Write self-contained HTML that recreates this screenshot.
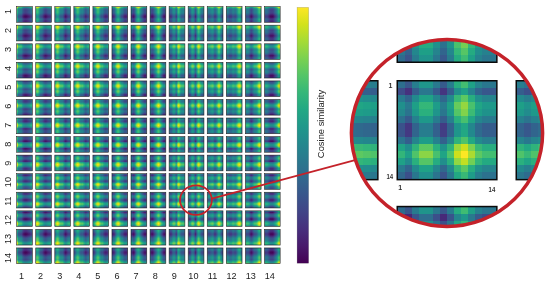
<!DOCTYPE html>
<html><head><meta charset="utf-8"><title>Cosine similarity</title>
<style>html,body{margin:0;padding:0;background:#fff}body{width:550px;height:284px;overflow:hidden}</style></head>
<body><svg width="550" height="284" viewBox="0 0 550 284" style="display:block">
<defs><linearGradient id="c0" x1="0" y1="0" x2="1" y2="0"><stop offset="0.0357" stop-color="#ffffff"/><stop offset="0.1071" stop-color="#808080"/><stop offset="0.1786" stop-color="#777777"/><stop offset="0.2500" stop-color="#6d6d6d"/><stop offset="0.3214" stop-color="#636363"/><stop offset="0.3929" stop-color="#2a2a2a"/><stop offset="0.4643" stop-color="#0d0d0d"/><stop offset="0.5357" stop-color="#000000"/><stop offset="0.6071" stop-color="#000000"/><stop offset="0.6786" stop-color="#0d0d0d"/><stop offset="0.7500" stop-color="#1b1b1b"/><stop offset="0.8214" stop-color="#2a2a2a"/><stop offset="0.8929" stop-color="#474747"/><stop offset="0.9643" stop-color="#555555"/></linearGradient><linearGradient id="cs0" x1="0" y1="0" x2="1" y2="0"><stop offset="0.0000" stop-color="#ffffff"/><stop offset="0.0714" stop-color="#ffffff"/><stop offset="0.0714" stop-color="#808080"/><stop offset="0.1429" stop-color="#808080"/><stop offset="0.1429" stop-color="#777777"/><stop offset="0.2143" stop-color="#777777"/><stop offset="0.2143" stop-color="#6d6d6d"/><stop offset="0.2857" stop-color="#6d6d6d"/><stop offset="0.2857" stop-color="#636363"/><stop offset="0.3571" stop-color="#636363"/><stop offset="0.3571" stop-color="#2a2a2a"/><stop offset="0.4286" stop-color="#2a2a2a"/><stop offset="0.4286" stop-color="#0d0d0d"/><stop offset="0.5000" stop-color="#0d0d0d"/><stop offset="0.5000" stop-color="#000000"/><stop offset="0.5714" stop-color="#000000"/><stop offset="0.5714" stop-color="#000000"/><stop offset="0.6429" stop-color="#000000"/><stop offset="0.6429" stop-color="#0d0d0d"/><stop offset="0.7143" stop-color="#0d0d0d"/><stop offset="0.7143" stop-color="#1b1b1b"/><stop offset="0.7857" stop-color="#1b1b1b"/><stop offset="0.7857" stop-color="#2a2a2a"/><stop offset="0.8571" stop-color="#2a2a2a"/><stop offset="0.8571" stop-color="#474747"/><stop offset="0.9286" stop-color="#474747"/><stop offset="0.9286" stop-color="#555555"/><stop offset="1.0000" stop-color="#555555"/></linearGradient><linearGradient id="r0" x1="0" y1="0" x2="0" y2="1"><stop offset="0.0357" stop-color="#ffffff"/><stop offset="0.1071" stop-color="#999999"/><stop offset="0.1786" stop-color="#6d6d6d"/><stop offset="0.2500" stop-color="#636363"/><stop offset="0.3214" stop-color="#676767"/><stop offset="0.3929" stop-color="#636363"/><stop offset="0.4643" stop-color="#474747"/><stop offset="0.5357" stop-color="#212121"/><stop offset="0.6071" stop-color="#070707"/><stop offset="0.6786" stop-color="#0d0d0d"/><stop offset="0.7500" stop-color="#383838"/><stop offset="0.8214" stop-color="#4c4c4c"/><stop offset="0.8929" stop-color="#383838"/><stop offset="0.9643" stop-color="#2a2a2a"/></linearGradient><linearGradient id="rs0" x1="0" y1="0" x2="0" y2="1"><stop offset="0.0000" stop-color="#ffffff"/><stop offset="0.0714" stop-color="#ffffff"/><stop offset="0.0714" stop-color="#999999"/><stop offset="0.1429" stop-color="#999999"/><stop offset="0.1429" stop-color="#6d6d6d"/><stop offset="0.2143" stop-color="#6d6d6d"/><stop offset="0.2143" stop-color="#636363"/><stop offset="0.2857" stop-color="#636363"/><stop offset="0.2857" stop-color="#676767"/><stop offset="0.3571" stop-color="#676767"/><stop offset="0.3571" stop-color="#636363"/><stop offset="0.4286" stop-color="#636363"/><stop offset="0.4286" stop-color="#474747"/><stop offset="0.5000" stop-color="#474747"/><stop offset="0.5000" stop-color="#212121"/><stop offset="0.5714" stop-color="#212121"/><stop offset="0.5714" stop-color="#070707"/><stop offset="0.6429" stop-color="#070707"/><stop offset="0.6429" stop-color="#0d0d0d"/><stop offset="0.7143" stop-color="#0d0d0d"/><stop offset="0.7143" stop-color="#383838"/><stop offset="0.7857" stop-color="#383838"/><stop offset="0.7857" stop-color="#4c4c4c"/><stop offset="0.8571" stop-color="#4c4c4c"/><stop offset="0.8571" stop-color="#383838"/><stop offset="0.9286" stop-color="#383838"/><stop offset="0.9286" stop-color="#2a2a2a"/><stop offset="1.0000" stop-color="#2a2a2a"/></linearGradient><linearGradient id="c1" x1="0" y1="0" x2="1" y2="0"><stop offset="0.0357" stop-color="#e6e6e6"/><stop offset="0.1071" stop-color="#ffffff"/><stop offset="0.1786" stop-color="#e0e0e0"/><stop offset="0.2500" stop-color="#9e9e9e"/><stop offset="0.3214" stop-color="#6b6b6b"/><stop offset="0.3929" stop-color="#6b6b6b"/><stop offset="0.4643" stop-color="#414141"/><stop offset="0.5357" stop-color="#1c1c1c"/><stop offset="0.6071" stop-color="#060606"/><stop offset="0.6786" stop-color="#0d0d0d"/><stop offset="0.7500" stop-color="#232323"/><stop offset="0.8214" stop-color="#323232"/><stop offset="0.8929" stop-color="#3a3a3a"/><stop offset="0.9643" stop-color="#484848"/></linearGradient><linearGradient id="cs1" x1="0" y1="0" x2="1" y2="0"><stop offset="0.0000" stop-color="#e6e6e6"/><stop offset="0.0714" stop-color="#e6e6e6"/><stop offset="0.0714" stop-color="#ffffff"/><stop offset="0.1429" stop-color="#ffffff"/><stop offset="0.1429" stop-color="#e0e0e0"/><stop offset="0.2143" stop-color="#e0e0e0"/><stop offset="0.2143" stop-color="#9e9e9e"/><stop offset="0.2857" stop-color="#9e9e9e"/><stop offset="0.2857" stop-color="#6b6b6b"/><stop offset="0.3571" stop-color="#6b6b6b"/><stop offset="0.3571" stop-color="#6b6b6b"/><stop offset="0.4286" stop-color="#6b6b6b"/><stop offset="0.4286" stop-color="#414141"/><stop offset="0.5000" stop-color="#414141"/><stop offset="0.5000" stop-color="#1c1c1c"/><stop offset="0.5714" stop-color="#1c1c1c"/><stop offset="0.5714" stop-color="#060606"/><stop offset="0.6429" stop-color="#060606"/><stop offset="0.6429" stop-color="#0d0d0d"/><stop offset="0.7143" stop-color="#0d0d0d"/><stop offset="0.7143" stop-color="#232323"/><stop offset="0.7857" stop-color="#232323"/><stop offset="0.7857" stop-color="#323232"/><stop offset="0.8571" stop-color="#323232"/><stop offset="0.8571" stop-color="#3a3a3a"/><stop offset="0.9286" stop-color="#3a3a3a"/><stop offset="0.9286" stop-color="#484848"/><stop offset="1.0000" stop-color="#484848"/></linearGradient><linearGradient id="r1" x1="0" y1="0" x2="0" y2="1"><stop offset="0.0357" stop-color="#e0e0e0"/><stop offset="0.1071" stop-color="#ffffff"/><stop offset="0.1786" stop-color="#e0e0e0"/><stop offset="0.2500" stop-color="#9e9e9e"/><stop offset="0.3214" stop-color="#666666"/><stop offset="0.3929" stop-color="#707070"/><stop offset="0.4643" stop-color="#666666"/><stop offset="0.5357" stop-color="#484848"/><stop offset="0.6071" stop-color="#2b2b2b"/><stop offset="0.6786" stop-color="#0d0d0d"/><stop offset="0.7500" stop-color="#2b2b2b"/><stop offset="0.8214" stop-color="#484848"/><stop offset="0.8929" stop-color="#575757"/><stop offset="0.9643" stop-color="#3a3a3a"/></linearGradient><linearGradient id="rs1" x1="0" y1="0" x2="0" y2="1"><stop offset="0.0000" stop-color="#e0e0e0"/><stop offset="0.0714" stop-color="#e0e0e0"/><stop offset="0.0714" stop-color="#ffffff"/><stop offset="0.1429" stop-color="#ffffff"/><stop offset="0.1429" stop-color="#e0e0e0"/><stop offset="0.2143" stop-color="#e0e0e0"/><stop offset="0.2143" stop-color="#9e9e9e"/><stop offset="0.2857" stop-color="#9e9e9e"/><stop offset="0.2857" stop-color="#666666"/><stop offset="0.3571" stop-color="#666666"/><stop offset="0.3571" stop-color="#707070"/><stop offset="0.4286" stop-color="#707070"/><stop offset="0.4286" stop-color="#666666"/><stop offset="0.5000" stop-color="#666666"/><stop offset="0.5000" stop-color="#484848"/><stop offset="0.5714" stop-color="#484848"/><stop offset="0.5714" stop-color="#2b2b2b"/><stop offset="0.6429" stop-color="#2b2b2b"/><stop offset="0.6429" stop-color="#0d0d0d"/><stop offset="0.7143" stop-color="#0d0d0d"/><stop offset="0.7143" stop-color="#2b2b2b"/><stop offset="0.7857" stop-color="#2b2b2b"/><stop offset="0.7857" stop-color="#484848"/><stop offset="0.8571" stop-color="#484848"/><stop offset="0.8571" stop-color="#575757"/><stop offset="0.9286" stop-color="#575757"/><stop offset="0.9286" stop-color="#3a3a3a"/><stop offset="1.0000" stop-color="#3a3a3a"/></linearGradient><linearGradient id="c2" x1="0" y1="0" x2="1" y2="0"><stop offset="0.0357" stop-color="#9e9e9e"/><stop offset="0.1071" stop-color="#e0e0e0"/><stop offset="0.1786" stop-color="#ffffff"/><stop offset="0.2500" stop-color="#e0e0e0"/><stop offset="0.3214" stop-color="#9e9e9e"/><stop offset="0.3929" stop-color="#808080"/><stop offset="0.4643" stop-color="#8c8c8c"/><stop offset="0.5357" stop-color="#6d6d6d"/><stop offset="0.6071" stop-color="#363636"/><stop offset="0.6786" stop-color="#111111"/><stop offset="0.7500" stop-color="#232323"/><stop offset="0.8214" stop-color="#484848"/><stop offset="0.8929" stop-color="#5b5b5b"/><stop offset="0.9643" stop-color="#5b5b5b"/></linearGradient><linearGradient id="cs2" x1="0" y1="0" x2="1" y2="0"><stop offset="0.0000" stop-color="#9e9e9e"/><stop offset="0.0714" stop-color="#9e9e9e"/><stop offset="0.0714" stop-color="#e0e0e0"/><stop offset="0.1429" stop-color="#e0e0e0"/><stop offset="0.1429" stop-color="#ffffff"/><stop offset="0.2143" stop-color="#ffffff"/><stop offset="0.2143" stop-color="#e0e0e0"/><stop offset="0.2857" stop-color="#e0e0e0"/><stop offset="0.2857" stop-color="#9e9e9e"/><stop offset="0.3571" stop-color="#9e9e9e"/><stop offset="0.3571" stop-color="#808080"/><stop offset="0.4286" stop-color="#808080"/><stop offset="0.4286" stop-color="#8c8c8c"/><stop offset="0.5000" stop-color="#8c8c8c"/><stop offset="0.5000" stop-color="#6d6d6d"/><stop offset="0.5714" stop-color="#6d6d6d"/><stop offset="0.5714" stop-color="#363636"/><stop offset="0.6429" stop-color="#363636"/><stop offset="0.6429" stop-color="#111111"/><stop offset="0.7143" stop-color="#111111"/><stop offset="0.7143" stop-color="#232323"/><stop offset="0.7857" stop-color="#232323"/><stop offset="0.7857" stop-color="#484848"/><stop offset="0.8571" stop-color="#484848"/><stop offset="0.8571" stop-color="#5b5b5b"/><stop offset="0.9286" stop-color="#5b5b5b"/><stop offset="0.9286" stop-color="#5b5b5b"/><stop offset="1.0000" stop-color="#5b5b5b"/></linearGradient><linearGradient id="r2" x1="0" y1="0" x2="0" y2="1"><stop offset="0.0357" stop-color="#acacac"/><stop offset="0.1071" stop-color="#e0e0e0"/><stop offset="0.1786" stop-color="#ffffff"/><stop offset="0.2500" stop-color="#e0e0e0"/><stop offset="0.3214" stop-color="#9e9e9e"/><stop offset="0.3929" stop-color="#767676"/><stop offset="0.4643" stop-color="#8c8c8c"/><stop offset="0.5357" stop-color="#8c8c8c"/><stop offset="0.6071" stop-color="#6d6d6d"/><stop offset="0.6786" stop-color="#3f3f3f"/><stop offset="0.7500" stop-color="#111111"/><stop offset="0.8214" stop-color="#232323"/><stop offset="0.8929" stop-color="#484848"/><stop offset="0.9643" stop-color="#515151"/></linearGradient><linearGradient id="rs2" x1="0" y1="0" x2="0" y2="1"><stop offset="0.0000" stop-color="#acacac"/><stop offset="0.0714" stop-color="#acacac"/><stop offset="0.0714" stop-color="#e0e0e0"/><stop offset="0.1429" stop-color="#e0e0e0"/><stop offset="0.1429" stop-color="#ffffff"/><stop offset="0.2143" stop-color="#ffffff"/><stop offset="0.2143" stop-color="#e0e0e0"/><stop offset="0.2857" stop-color="#e0e0e0"/><stop offset="0.2857" stop-color="#9e9e9e"/><stop offset="0.3571" stop-color="#9e9e9e"/><stop offset="0.3571" stop-color="#767676"/><stop offset="0.4286" stop-color="#767676"/><stop offset="0.4286" stop-color="#8c8c8c"/><stop offset="0.5000" stop-color="#8c8c8c"/><stop offset="0.5000" stop-color="#8c8c8c"/><stop offset="0.5714" stop-color="#8c8c8c"/><stop offset="0.5714" stop-color="#6d6d6d"/><stop offset="0.6429" stop-color="#6d6d6d"/><stop offset="0.6429" stop-color="#3f3f3f"/><stop offset="0.7143" stop-color="#3f3f3f"/><stop offset="0.7143" stop-color="#111111"/><stop offset="0.7857" stop-color="#111111"/><stop offset="0.7857" stop-color="#232323"/><stop offset="0.8571" stop-color="#232323"/><stop offset="0.8571" stop-color="#484848"/><stop offset="0.9286" stop-color="#484848"/><stop offset="0.9286" stop-color="#515151"/><stop offset="1.0000" stop-color="#515151"/></linearGradient><linearGradient id="c3" x1="0" y1="0" x2="1" y2="0"><stop offset="0.0357" stop-color="#6d6d6d"/><stop offset="0.1071" stop-color="#9e9e9e"/><stop offset="0.1786" stop-color="#e0e0e0"/><stop offset="0.2500" stop-color="#ffffff"/><stop offset="0.3214" stop-color="#e0e0e0"/><stop offset="0.3929" stop-color="#9e9e9e"/><stop offset="0.4643" stop-color="#808080"/><stop offset="0.5357" stop-color="#8c8c8c"/><stop offset="0.6071" stop-color="#6d6d6d"/><stop offset="0.6786" stop-color="#484848"/><stop offset="0.7500" stop-color="#232323"/><stop offset="0.8214" stop-color="#363636"/><stop offset="0.8929" stop-color="#5b5b5b"/><stop offset="0.9643" stop-color="#5b5b5b"/></linearGradient><linearGradient id="cs3" x1="0" y1="0" x2="1" y2="0"><stop offset="0.0000" stop-color="#6d6d6d"/><stop offset="0.0714" stop-color="#6d6d6d"/><stop offset="0.0714" stop-color="#9e9e9e"/><stop offset="0.1429" stop-color="#9e9e9e"/><stop offset="0.1429" stop-color="#e0e0e0"/><stop offset="0.2143" stop-color="#e0e0e0"/><stop offset="0.2143" stop-color="#ffffff"/><stop offset="0.2857" stop-color="#ffffff"/><stop offset="0.2857" stop-color="#e0e0e0"/><stop offset="0.3571" stop-color="#e0e0e0"/><stop offset="0.3571" stop-color="#9e9e9e"/><stop offset="0.4286" stop-color="#9e9e9e"/><stop offset="0.4286" stop-color="#808080"/><stop offset="0.5000" stop-color="#808080"/><stop offset="0.5000" stop-color="#8c8c8c"/><stop offset="0.5714" stop-color="#8c8c8c"/><stop offset="0.5714" stop-color="#6d6d6d"/><stop offset="0.6429" stop-color="#6d6d6d"/><stop offset="0.6429" stop-color="#484848"/><stop offset="0.7143" stop-color="#484848"/><stop offset="0.7143" stop-color="#232323"/><stop offset="0.7857" stop-color="#232323"/><stop offset="0.7857" stop-color="#363636"/><stop offset="0.8571" stop-color="#363636"/><stop offset="0.8571" stop-color="#5b5b5b"/><stop offset="0.9286" stop-color="#5b5b5b"/><stop offset="0.9286" stop-color="#5b5b5b"/><stop offset="1.0000" stop-color="#5b5b5b"/></linearGradient><linearGradient id="r3" x1="0" y1="0" x2="0" y2="1"><stop offset="0.0357" stop-color="#808080"/><stop offset="0.1071" stop-color="#9e9e9e"/><stop offset="0.1786" stop-color="#e0e0e0"/><stop offset="0.2500" stop-color="#ffffff"/><stop offset="0.3214" stop-color="#e0e0e0"/><stop offset="0.3929" stop-color="#9e9e9e"/><stop offset="0.4643" stop-color="#6d6d6d"/><stop offset="0.5357" stop-color="#8c8c8c"/><stop offset="0.6071" stop-color="#999999"/><stop offset="0.6786" stop-color="#808080"/><stop offset="0.7500" stop-color="#484848"/><stop offset="0.8214" stop-color="#111111"/><stop offset="0.8929" stop-color="#111111"/><stop offset="0.9643" stop-color="#363636"/></linearGradient><linearGradient id="rs3" x1="0" y1="0" x2="0" y2="1"><stop offset="0.0000" stop-color="#808080"/><stop offset="0.0714" stop-color="#808080"/><stop offset="0.0714" stop-color="#9e9e9e"/><stop offset="0.1429" stop-color="#9e9e9e"/><stop offset="0.1429" stop-color="#e0e0e0"/><stop offset="0.2143" stop-color="#e0e0e0"/><stop offset="0.2143" stop-color="#ffffff"/><stop offset="0.2857" stop-color="#ffffff"/><stop offset="0.2857" stop-color="#e0e0e0"/><stop offset="0.3571" stop-color="#e0e0e0"/><stop offset="0.3571" stop-color="#9e9e9e"/><stop offset="0.4286" stop-color="#9e9e9e"/><stop offset="0.4286" stop-color="#6d6d6d"/><stop offset="0.5000" stop-color="#6d6d6d"/><stop offset="0.5000" stop-color="#8c8c8c"/><stop offset="0.5714" stop-color="#8c8c8c"/><stop offset="0.5714" stop-color="#999999"/><stop offset="0.6429" stop-color="#999999"/><stop offset="0.6429" stop-color="#808080"/><stop offset="0.7143" stop-color="#808080"/><stop offset="0.7143" stop-color="#484848"/><stop offset="0.7857" stop-color="#484848"/><stop offset="0.7857" stop-color="#111111"/><stop offset="0.8571" stop-color="#111111"/><stop offset="0.8571" stop-color="#111111"/><stop offset="0.9286" stop-color="#111111"/><stop offset="0.9286" stop-color="#363636"/><stop offset="1.0000" stop-color="#363636"/></linearGradient><linearGradient id="c4" x1="0" y1="0" x2="1" y2="0"><stop offset="0.0357" stop-color="#4c4c4c"/><stop offset="0.1071" stop-color="#5d5d5d"/><stop offset="0.1786" stop-color="#9e9e9e"/><stop offset="0.2500" stop-color="#e0e0e0"/><stop offset="0.3214" stop-color="#ffffff"/><stop offset="0.3929" stop-color="#e0e0e0"/><stop offset="0.4643" stop-color="#9e9e9e"/><stop offset="0.5357" stop-color="#797979"/><stop offset="0.6071" stop-color="#797979"/><stop offset="0.6786" stop-color="#545454"/><stop offset="0.7500" stop-color="#333333"/><stop offset="0.8214" stop-color="#232323"/><stop offset="0.8929" stop-color="#2f2f2f"/><stop offset="0.9643" stop-color="#484848"/></linearGradient><linearGradient id="cs4" x1="0" y1="0" x2="1" y2="0"><stop offset="0.0000" stop-color="#4c4c4c"/><stop offset="0.0714" stop-color="#4c4c4c"/><stop offset="0.0714" stop-color="#5d5d5d"/><stop offset="0.1429" stop-color="#5d5d5d"/><stop offset="0.1429" stop-color="#9e9e9e"/><stop offset="0.2143" stop-color="#9e9e9e"/><stop offset="0.2143" stop-color="#e0e0e0"/><stop offset="0.2857" stop-color="#e0e0e0"/><stop offset="0.2857" stop-color="#ffffff"/><stop offset="0.3571" stop-color="#ffffff"/><stop offset="0.3571" stop-color="#e0e0e0"/><stop offset="0.4286" stop-color="#e0e0e0"/><stop offset="0.4286" stop-color="#9e9e9e"/><stop offset="0.5000" stop-color="#9e9e9e"/><stop offset="0.5000" stop-color="#797979"/><stop offset="0.5714" stop-color="#797979"/><stop offset="0.5714" stop-color="#797979"/><stop offset="0.6429" stop-color="#797979"/><stop offset="0.6429" stop-color="#545454"/><stop offset="0.7143" stop-color="#545454"/><stop offset="0.7143" stop-color="#333333"/><stop offset="0.7857" stop-color="#333333"/><stop offset="0.7857" stop-color="#232323"/><stop offset="0.8571" stop-color="#232323"/><stop offset="0.8571" stop-color="#2f2f2f"/><stop offset="0.9286" stop-color="#2f2f2f"/><stop offset="0.9286" stop-color="#484848"/><stop offset="1.0000" stop-color="#484848"/></linearGradient><linearGradient id="r4" x1="0" y1="0" x2="0" y2="1"><stop offset="0.0357" stop-color="#5b5b5b"/><stop offset="0.1071" stop-color="#808080"/><stop offset="0.1786" stop-color="#9e9e9e"/><stop offset="0.2500" stop-color="#e0e0e0"/><stop offset="0.3214" stop-color="#ffffff"/><stop offset="0.3929" stop-color="#e0e0e0"/><stop offset="0.4643" stop-color="#9e9e9e"/><stop offset="0.5357" stop-color="#6d6d6d"/><stop offset="0.6071" stop-color="#8c8c8c"/><stop offset="0.6786" stop-color="#999999"/><stop offset="0.7500" stop-color="#808080"/><stop offset="0.8214" stop-color="#484848"/><stop offset="0.8929" stop-color="#111111"/><stop offset="0.9643" stop-color="#232323"/></linearGradient><linearGradient id="rs4" x1="0" y1="0" x2="0" y2="1"><stop offset="0.0000" stop-color="#5b5b5b"/><stop offset="0.0714" stop-color="#5b5b5b"/><stop offset="0.0714" stop-color="#808080"/><stop offset="0.1429" stop-color="#808080"/><stop offset="0.1429" stop-color="#9e9e9e"/><stop offset="0.2143" stop-color="#9e9e9e"/><stop offset="0.2143" stop-color="#e0e0e0"/><stop offset="0.2857" stop-color="#e0e0e0"/><stop offset="0.2857" stop-color="#ffffff"/><stop offset="0.3571" stop-color="#ffffff"/><stop offset="0.3571" stop-color="#e0e0e0"/><stop offset="0.4286" stop-color="#e0e0e0"/><stop offset="0.4286" stop-color="#9e9e9e"/><stop offset="0.5000" stop-color="#9e9e9e"/><stop offset="0.5000" stop-color="#6d6d6d"/><stop offset="0.5714" stop-color="#6d6d6d"/><stop offset="0.5714" stop-color="#8c8c8c"/><stop offset="0.6429" stop-color="#8c8c8c"/><stop offset="0.6429" stop-color="#999999"/><stop offset="0.7143" stop-color="#999999"/><stop offset="0.7143" stop-color="#808080"/><stop offset="0.7857" stop-color="#808080"/><stop offset="0.7857" stop-color="#484848"/><stop offset="0.8571" stop-color="#484848"/><stop offset="0.8571" stop-color="#111111"/><stop offset="0.9286" stop-color="#111111"/><stop offset="0.9286" stop-color="#232323"/><stop offset="1.0000" stop-color="#232323"/></linearGradient><linearGradient id="c5" x1="0" y1="0" x2="1" y2="0"><stop offset="0.0357" stop-color="#343434"/><stop offset="0.1071" stop-color="#2a2a2a"/><stop offset="0.1786" stop-color="#4d4d4d"/><stop offset="0.2500" stop-color="#9e9e9e"/><stop offset="0.3214" stop-color="#e0e0e0"/><stop offset="0.3929" stop-color="#ffffff"/><stop offset="0.4643" stop-color="#e0e0e0"/><stop offset="0.5357" stop-color="#9e9e9e"/><stop offset="0.6071" stop-color="#737373"/><stop offset="0.6786" stop-color="#616161"/><stop offset="0.7500" stop-color="#3c3c3c"/><stop offset="0.8214" stop-color="#1e1e1e"/><stop offset="0.8929" stop-color="#232323"/><stop offset="0.9643" stop-color="#292929"/></linearGradient><linearGradient id="cs5" x1="0" y1="0" x2="1" y2="0"><stop offset="0.0000" stop-color="#343434"/><stop offset="0.0714" stop-color="#343434"/><stop offset="0.0714" stop-color="#2a2a2a"/><stop offset="0.1429" stop-color="#2a2a2a"/><stop offset="0.1429" stop-color="#4d4d4d"/><stop offset="0.2143" stop-color="#4d4d4d"/><stop offset="0.2143" stop-color="#9e9e9e"/><stop offset="0.2857" stop-color="#9e9e9e"/><stop offset="0.2857" stop-color="#e0e0e0"/><stop offset="0.3571" stop-color="#e0e0e0"/><stop offset="0.3571" stop-color="#ffffff"/><stop offset="0.4286" stop-color="#ffffff"/><stop offset="0.4286" stop-color="#e0e0e0"/><stop offset="0.5000" stop-color="#e0e0e0"/><stop offset="0.5000" stop-color="#9e9e9e"/><stop offset="0.5714" stop-color="#9e9e9e"/><stop offset="0.5714" stop-color="#737373"/><stop offset="0.6429" stop-color="#737373"/><stop offset="0.6429" stop-color="#616161"/><stop offset="0.7143" stop-color="#616161"/><stop offset="0.7143" stop-color="#3c3c3c"/><stop offset="0.7857" stop-color="#3c3c3c"/><stop offset="0.7857" stop-color="#1e1e1e"/><stop offset="0.8571" stop-color="#1e1e1e"/><stop offset="0.8571" stop-color="#232323"/><stop offset="0.9286" stop-color="#232323"/><stop offset="0.9286" stop-color="#292929"/><stop offset="1.0000" stop-color="#292929"/></linearGradient><linearGradient id="r5" x1="0" y1="0" x2="0" y2="1"><stop offset="0.0357" stop-color="#5b5b5b"/><stop offset="0.1071" stop-color="#484848"/><stop offset="0.1786" stop-color="#5b5b5b"/><stop offset="0.2500" stop-color="#9e9e9e"/><stop offset="0.3214" stop-color="#e0e0e0"/><stop offset="0.3929" stop-color="#ffffff"/><stop offset="0.4643" stop-color="#e0e0e0"/><stop offset="0.5357" stop-color="#9e9e9e"/><stop offset="0.6071" stop-color="#4e4e4e"/><stop offset="0.6786" stop-color="#6d6d6d"/><stop offset="0.7500" stop-color="#888888"/><stop offset="0.8214" stop-color="#737373"/><stop offset="0.8929" stop-color="#4e4e4e"/><stop offset="0.9643" stop-color="#292929"/></linearGradient><linearGradient id="rs5" x1="0" y1="0" x2="0" y2="1"><stop offset="0.0000" stop-color="#5b5b5b"/><stop offset="0.0714" stop-color="#5b5b5b"/><stop offset="0.0714" stop-color="#484848"/><stop offset="0.1429" stop-color="#484848"/><stop offset="0.1429" stop-color="#5b5b5b"/><stop offset="0.2143" stop-color="#5b5b5b"/><stop offset="0.2143" stop-color="#9e9e9e"/><stop offset="0.2857" stop-color="#9e9e9e"/><stop offset="0.2857" stop-color="#e0e0e0"/><stop offset="0.3571" stop-color="#e0e0e0"/><stop offset="0.3571" stop-color="#ffffff"/><stop offset="0.4286" stop-color="#ffffff"/><stop offset="0.4286" stop-color="#e0e0e0"/><stop offset="0.5000" stop-color="#e0e0e0"/><stop offset="0.5000" stop-color="#9e9e9e"/><stop offset="0.5714" stop-color="#9e9e9e"/><stop offset="0.5714" stop-color="#4e4e4e"/><stop offset="0.6429" stop-color="#4e4e4e"/><stop offset="0.6429" stop-color="#6d6d6d"/><stop offset="0.7143" stop-color="#6d6d6d"/><stop offset="0.7143" stop-color="#888888"/><stop offset="0.7857" stop-color="#888888"/><stop offset="0.7857" stop-color="#737373"/><stop offset="0.8571" stop-color="#737373"/><stop offset="0.8571" stop-color="#4e4e4e"/><stop offset="0.9286" stop-color="#4e4e4e"/><stop offset="0.9286" stop-color="#292929"/><stop offset="1.0000" stop-color="#292929"/></linearGradient><linearGradient id="c6" x1="0" y1="0" x2="1" y2="0"><stop offset="0.0357" stop-color="#484848"/><stop offset="0.1071" stop-color="#181818"/><stop offset="0.1786" stop-color="#090909"/><stop offset="0.2500" stop-color="#3d3d3d"/><stop offset="0.3214" stop-color="#9e9e9e"/><stop offset="0.3929" stop-color="#e0e0e0"/><stop offset="0.4643" stop-color="#ffffff"/><stop offset="0.5357" stop-color="#e0e0e0"/><stop offset="0.6071" stop-color="#9e9e9e"/><stop offset="0.6786" stop-color="#6d6d6d"/><stop offset="0.7500" stop-color="#484848"/><stop offset="0.8214" stop-color="#232323"/><stop offset="0.8929" stop-color="#090909"/><stop offset="0.9643" stop-color="#232323"/></linearGradient><linearGradient id="cs6" x1="0" y1="0" x2="1" y2="0"><stop offset="0.0000" stop-color="#484848"/><stop offset="0.0714" stop-color="#484848"/><stop offset="0.0714" stop-color="#181818"/><stop offset="0.1429" stop-color="#181818"/><stop offset="0.1429" stop-color="#090909"/><stop offset="0.2143" stop-color="#090909"/><stop offset="0.2143" stop-color="#3d3d3d"/><stop offset="0.2857" stop-color="#3d3d3d"/><stop offset="0.2857" stop-color="#9e9e9e"/><stop offset="0.3571" stop-color="#9e9e9e"/><stop offset="0.3571" stop-color="#e0e0e0"/><stop offset="0.4286" stop-color="#e0e0e0"/><stop offset="0.4286" stop-color="#ffffff"/><stop offset="0.5000" stop-color="#ffffff"/><stop offset="0.5000" stop-color="#e0e0e0"/><stop offset="0.5714" stop-color="#e0e0e0"/><stop offset="0.5714" stop-color="#9e9e9e"/><stop offset="0.6429" stop-color="#9e9e9e"/><stop offset="0.6429" stop-color="#6d6d6d"/><stop offset="0.7143" stop-color="#6d6d6d"/><stop offset="0.7143" stop-color="#484848"/><stop offset="0.7857" stop-color="#484848"/><stop offset="0.7857" stop-color="#232323"/><stop offset="0.8571" stop-color="#232323"/><stop offset="0.8571" stop-color="#090909"/><stop offset="0.9286" stop-color="#090909"/><stop offset="0.9286" stop-color="#232323"/><stop offset="1.0000" stop-color="#232323"/></linearGradient><linearGradient id="r6" x1="0" y1="0" x2="0" y2="1"><stop offset="0.0357" stop-color="#676767"/><stop offset="0.1071" stop-color="#5b5b5b"/><stop offset="0.1786" stop-color="#363636"/><stop offset="0.2500" stop-color="#363636"/><stop offset="0.3214" stop-color="#9e9e9e"/><stop offset="0.3929" stop-color="#e0e0e0"/><stop offset="0.4643" stop-color="#ffffff"/><stop offset="0.5357" stop-color="#e0e0e0"/><stop offset="0.6071" stop-color="#9e9e9e"/><stop offset="0.6786" stop-color="#2f2f2f"/><stop offset="0.7500" stop-color="#484848"/><stop offset="0.8214" stop-color="#737373"/><stop offset="0.8929" stop-color="#676767"/><stop offset="0.9643" stop-color="#545454"/></linearGradient><linearGradient id="rs6" x1="0" y1="0" x2="0" y2="1"><stop offset="0.0000" stop-color="#676767"/><stop offset="0.0714" stop-color="#676767"/><stop offset="0.0714" stop-color="#5b5b5b"/><stop offset="0.1429" stop-color="#5b5b5b"/><stop offset="0.1429" stop-color="#363636"/><stop offset="0.2143" stop-color="#363636"/><stop offset="0.2143" stop-color="#363636"/><stop offset="0.2857" stop-color="#363636"/><stop offset="0.2857" stop-color="#9e9e9e"/><stop offset="0.3571" stop-color="#9e9e9e"/><stop offset="0.3571" stop-color="#e0e0e0"/><stop offset="0.4286" stop-color="#e0e0e0"/><stop offset="0.4286" stop-color="#ffffff"/><stop offset="0.5000" stop-color="#ffffff"/><stop offset="0.5000" stop-color="#e0e0e0"/><stop offset="0.5714" stop-color="#e0e0e0"/><stop offset="0.5714" stop-color="#9e9e9e"/><stop offset="0.6429" stop-color="#9e9e9e"/><stop offset="0.6429" stop-color="#2f2f2f"/><stop offset="0.7143" stop-color="#2f2f2f"/><stop offset="0.7143" stop-color="#484848"/><stop offset="0.7857" stop-color="#484848"/><stop offset="0.7857" stop-color="#737373"/><stop offset="0.8571" stop-color="#737373"/><stop offset="0.8571" stop-color="#676767"/><stop offset="0.9286" stop-color="#676767"/><stop offset="0.9286" stop-color="#545454"/><stop offset="1.0000" stop-color="#545454"/></linearGradient><linearGradient id="c7" x1="0" y1="0" x2="1" y2="0"><stop offset="0.0357" stop-color="#3d3d3d"/><stop offset="0.1071" stop-color="#090909"/><stop offset="0.1786" stop-color="#111111"/><stop offset="0.2500" stop-color="#3d3d3d"/><stop offset="0.3214" stop-color="#6d6d6d"/><stop offset="0.3929" stop-color="#9e9e9e"/><stop offset="0.4643" stop-color="#e0e0e0"/><stop offset="0.5357" stop-color="#ffffff"/><stop offset="0.6071" stop-color="#e0e0e0"/><stop offset="0.6786" stop-color="#9e9e9e"/><stop offset="0.7500" stop-color="#626262"/><stop offset="0.8214" stop-color="#363636"/><stop offset="0.8929" stop-color="#090909"/><stop offset="0.9643" stop-color="#232323"/></linearGradient><linearGradient id="cs7" x1="0" y1="0" x2="1" y2="0"><stop offset="0.0000" stop-color="#3d3d3d"/><stop offset="0.0714" stop-color="#3d3d3d"/><stop offset="0.0714" stop-color="#090909"/><stop offset="0.1429" stop-color="#090909"/><stop offset="0.1429" stop-color="#111111"/><stop offset="0.2143" stop-color="#111111"/><stop offset="0.2143" stop-color="#3d3d3d"/><stop offset="0.2857" stop-color="#3d3d3d"/><stop offset="0.2857" stop-color="#6d6d6d"/><stop offset="0.3571" stop-color="#6d6d6d"/><stop offset="0.3571" stop-color="#9e9e9e"/><stop offset="0.4286" stop-color="#9e9e9e"/><stop offset="0.4286" stop-color="#e0e0e0"/><stop offset="0.5000" stop-color="#e0e0e0"/><stop offset="0.5000" stop-color="#ffffff"/><stop offset="0.5714" stop-color="#ffffff"/><stop offset="0.5714" stop-color="#e0e0e0"/><stop offset="0.6429" stop-color="#e0e0e0"/><stop offset="0.6429" stop-color="#9e9e9e"/><stop offset="0.7143" stop-color="#9e9e9e"/><stop offset="0.7143" stop-color="#626262"/><stop offset="0.7857" stop-color="#626262"/><stop offset="0.7857" stop-color="#363636"/><stop offset="0.8571" stop-color="#363636"/><stop offset="0.8571" stop-color="#090909"/><stop offset="0.9286" stop-color="#090909"/><stop offset="0.9286" stop-color="#232323"/><stop offset="1.0000" stop-color="#232323"/></linearGradient><linearGradient id="r7" x1="0" y1="0" x2="0" y2="1"><stop offset="0.0357" stop-color="#5b5b5b"/><stop offset="0.1071" stop-color="#6d6d6d"/><stop offset="0.1786" stop-color="#5b5b5b"/><stop offset="0.2500" stop-color="#232323"/><stop offset="0.3214" stop-color="#111111"/><stop offset="0.3929" stop-color="#9e9e9e"/><stop offset="0.4643" stop-color="#e0e0e0"/><stop offset="0.5357" stop-color="#ffffff"/><stop offset="0.6071" stop-color="#e0e0e0"/><stop offset="0.6786" stop-color="#9e9e9e"/><stop offset="0.7500" stop-color="#111111"/><stop offset="0.8214" stop-color="#232323"/><stop offset="0.8929" stop-color="#5b5b5b"/><stop offset="0.9643" stop-color="#5b5b5b"/></linearGradient><linearGradient id="rs7" x1="0" y1="0" x2="0" y2="1"><stop offset="0.0000" stop-color="#5b5b5b"/><stop offset="0.0714" stop-color="#5b5b5b"/><stop offset="0.0714" stop-color="#6d6d6d"/><stop offset="0.1429" stop-color="#6d6d6d"/><stop offset="0.1429" stop-color="#5b5b5b"/><stop offset="0.2143" stop-color="#5b5b5b"/><stop offset="0.2143" stop-color="#232323"/><stop offset="0.2857" stop-color="#232323"/><stop offset="0.2857" stop-color="#111111"/><stop offset="0.3571" stop-color="#111111"/><stop offset="0.3571" stop-color="#9e9e9e"/><stop offset="0.4286" stop-color="#9e9e9e"/><stop offset="0.4286" stop-color="#e0e0e0"/><stop offset="0.5000" stop-color="#e0e0e0"/><stop offset="0.5000" stop-color="#ffffff"/><stop offset="0.5714" stop-color="#ffffff"/><stop offset="0.5714" stop-color="#e0e0e0"/><stop offset="0.6429" stop-color="#e0e0e0"/><stop offset="0.6429" stop-color="#9e9e9e"/><stop offset="0.7143" stop-color="#9e9e9e"/><stop offset="0.7143" stop-color="#111111"/><stop offset="0.7857" stop-color="#111111"/><stop offset="0.7857" stop-color="#232323"/><stop offset="0.8571" stop-color="#232323"/><stop offset="0.8571" stop-color="#5b5b5b"/><stop offset="0.9286" stop-color="#5b5b5b"/><stop offset="0.9286" stop-color="#5b5b5b"/><stop offset="1.0000" stop-color="#5b5b5b"/></linearGradient><linearGradient id="c8" x1="0" y1="0" x2="1" y2="0"><stop offset="0.0357" stop-color="#595959"/><stop offset="0.1071" stop-color="#2b2b2b"/><stop offset="0.1786" stop-color="#595959"/><stop offset="0.2500" stop-color="#8c8c8c"/><stop offset="0.3214" stop-color="#9e9e9e"/><stop offset="0.3929" stop-color="#737373"/><stop offset="0.4643" stop-color="#4c4c4c"/><stop offset="0.5357" stop-color="#bfbfbf"/><stop offset="0.6071" stop-color="#ffffff"/><stop offset="0.6786" stop-color="#cccccc"/><stop offset="0.7500" stop-color="#858585"/><stop offset="0.8214" stop-color="#808080"/><stop offset="0.8929" stop-color="#787878"/><stop offset="0.9643" stop-color="#737373"/></linearGradient><linearGradient id="cs8" x1="0" y1="0" x2="1" y2="0"><stop offset="0.0000" stop-color="#595959"/><stop offset="0.0714" stop-color="#595959"/><stop offset="0.0714" stop-color="#2b2b2b"/><stop offset="0.1429" stop-color="#2b2b2b"/><stop offset="0.1429" stop-color="#595959"/><stop offset="0.2143" stop-color="#595959"/><stop offset="0.2143" stop-color="#8c8c8c"/><stop offset="0.2857" stop-color="#8c8c8c"/><stop offset="0.2857" stop-color="#9e9e9e"/><stop offset="0.3571" stop-color="#9e9e9e"/><stop offset="0.3571" stop-color="#737373"/><stop offset="0.4286" stop-color="#737373"/><stop offset="0.4286" stop-color="#4c4c4c"/><stop offset="0.5000" stop-color="#4c4c4c"/><stop offset="0.5000" stop-color="#bfbfbf"/><stop offset="0.5714" stop-color="#bfbfbf"/><stop offset="0.5714" stop-color="#ffffff"/><stop offset="0.6429" stop-color="#ffffff"/><stop offset="0.6429" stop-color="#cccccc"/><stop offset="0.7143" stop-color="#cccccc"/><stop offset="0.7143" stop-color="#858585"/><stop offset="0.7857" stop-color="#858585"/><stop offset="0.7857" stop-color="#808080"/><stop offset="0.8571" stop-color="#808080"/><stop offset="0.8571" stop-color="#787878"/><stop offset="0.9286" stop-color="#787878"/><stop offset="0.9286" stop-color="#737373"/><stop offset="1.0000" stop-color="#737373"/></linearGradient><linearGradient id="r8" x1="0" y1="0" x2="0" y2="1"><stop offset="0.0357" stop-color="#2c2c2c"/><stop offset="0.1071" stop-color="#646464"/><stop offset="0.1786" stop-color="#8e8e8e"/><stop offset="0.2500" stop-color="#858585"/><stop offset="0.3214" stop-color="#484848"/><stop offset="0.3929" stop-color="#111111"/><stop offset="0.4643" stop-color="#9e9e9e"/><stop offset="0.5357" stop-color="#e0e0e0"/><stop offset="0.6071" stop-color="#ffffff"/><stop offset="0.6786" stop-color="#e0e0e0"/><stop offset="0.7500" stop-color="#9e9e9e"/><stop offset="0.8214" stop-color="#444444"/><stop offset="0.8929" stop-color="#3b3b3b"/><stop offset="0.9643" stop-color="#575757"/></linearGradient><linearGradient id="rs8" x1="0" y1="0" x2="0" y2="1"><stop offset="0.0000" stop-color="#2c2c2c"/><stop offset="0.0714" stop-color="#2c2c2c"/><stop offset="0.0714" stop-color="#646464"/><stop offset="0.1429" stop-color="#646464"/><stop offset="0.1429" stop-color="#8e8e8e"/><stop offset="0.2143" stop-color="#8e8e8e"/><stop offset="0.2143" stop-color="#858585"/><stop offset="0.2857" stop-color="#858585"/><stop offset="0.2857" stop-color="#484848"/><stop offset="0.3571" stop-color="#484848"/><stop offset="0.3571" stop-color="#111111"/><stop offset="0.4286" stop-color="#111111"/><stop offset="0.4286" stop-color="#9e9e9e"/><stop offset="0.5000" stop-color="#9e9e9e"/><stop offset="0.5000" stop-color="#e0e0e0"/><stop offset="0.5714" stop-color="#e0e0e0"/><stop offset="0.5714" stop-color="#ffffff"/><stop offset="0.6429" stop-color="#ffffff"/><stop offset="0.6429" stop-color="#e0e0e0"/><stop offset="0.7143" stop-color="#e0e0e0"/><stop offset="0.7143" stop-color="#9e9e9e"/><stop offset="0.7857" stop-color="#9e9e9e"/><stop offset="0.7857" stop-color="#444444"/><stop offset="0.8571" stop-color="#444444"/><stop offset="0.8571" stop-color="#3b3b3b"/><stop offset="0.9286" stop-color="#3b3b3b"/><stop offset="0.9286" stop-color="#575757"/><stop offset="1.0000" stop-color="#575757"/></linearGradient><linearGradient id="c9" x1="0" y1="0" x2="1" y2="0"><stop offset="0.0357" stop-color="#525252"/><stop offset="0.1071" stop-color="#242424"/><stop offset="0.1786" stop-color="#737373"/><stop offset="0.2500" stop-color="#a6a6a6"/><stop offset="0.3214" stop-color="#a6a6a6"/><stop offset="0.3929" stop-color="#6b6b6b"/><stop offset="0.4643" stop-color="#2b2b2b"/><stop offset="0.5357" stop-color="#737373"/><stop offset="0.6071" stop-color="#d9d9d9"/><stop offset="0.6786" stop-color="#ffffff"/><stop offset="0.7500" stop-color="#bfbfbf"/><stop offset="0.8214" stop-color="#808080"/><stop offset="0.8929" stop-color="#666666"/><stop offset="0.9643" stop-color="#666666"/></linearGradient><linearGradient id="cs9" x1="0" y1="0" x2="1" y2="0"><stop offset="0.0000" stop-color="#525252"/><stop offset="0.0714" stop-color="#525252"/><stop offset="0.0714" stop-color="#242424"/><stop offset="0.1429" stop-color="#242424"/><stop offset="0.1429" stop-color="#737373"/><stop offset="0.2143" stop-color="#737373"/><stop offset="0.2143" stop-color="#a6a6a6"/><stop offset="0.2857" stop-color="#a6a6a6"/><stop offset="0.2857" stop-color="#a6a6a6"/><stop offset="0.3571" stop-color="#a6a6a6"/><stop offset="0.3571" stop-color="#6b6b6b"/><stop offset="0.4286" stop-color="#6b6b6b"/><stop offset="0.4286" stop-color="#2b2b2b"/><stop offset="0.5000" stop-color="#2b2b2b"/><stop offset="0.5000" stop-color="#737373"/><stop offset="0.5714" stop-color="#737373"/><stop offset="0.5714" stop-color="#d9d9d9"/><stop offset="0.6429" stop-color="#d9d9d9"/><stop offset="0.6429" stop-color="#ffffff"/><stop offset="0.7143" stop-color="#ffffff"/><stop offset="0.7143" stop-color="#bfbfbf"/><stop offset="0.7857" stop-color="#bfbfbf"/><stop offset="0.7857" stop-color="#808080"/><stop offset="0.8571" stop-color="#808080"/><stop offset="0.8571" stop-color="#666666"/><stop offset="0.9286" stop-color="#666666"/><stop offset="0.9286" stop-color="#666666"/><stop offset="1.0000" stop-color="#666666"/></linearGradient><linearGradient id="r9" x1="0" y1="0" x2="0" y2="1"><stop offset="0.0357" stop-color="#595959"/><stop offset="0.1071" stop-color="#262626"/><stop offset="0.1786" stop-color="#737373"/><stop offset="0.2500" stop-color="#a8a8a8"/><stop offset="0.3214" stop-color="#a3a3a3"/><stop offset="0.3929" stop-color="#737373"/><stop offset="0.4643" stop-color="#333333"/><stop offset="0.5357" stop-color="#4c4c4c"/><stop offset="0.6071" stop-color="#cccccc"/><stop offset="0.6786" stop-color="#ffffff"/><stop offset="0.7500" stop-color="#d9d9d9"/><stop offset="0.8214" stop-color="#949494"/><stop offset="0.8929" stop-color="#7a7a7a"/><stop offset="0.9643" stop-color="#616161"/></linearGradient><linearGradient id="rs9" x1="0" y1="0" x2="0" y2="1"><stop offset="0.0000" stop-color="#595959"/><stop offset="0.0714" stop-color="#595959"/><stop offset="0.0714" stop-color="#262626"/><stop offset="0.1429" stop-color="#262626"/><stop offset="0.1429" stop-color="#737373"/><stop offset="0.2143" stop-color="#737373"/><stop offset="0.2143" stop-color="#a8a8a8"/><stop offset="0.2857" stop-color="#a8a8a8"/><stop offset="0.2857" stop-color="#a3a3a3"/><stop offset="0.3571" stop-color="#a3a3a3"/><stop offset="0.3571" stop-color="#737373"/><stop offset="0.4286" stop-color="#737373"/><stop offset="0.4286" stop-color="#333333"/><stop offset="0.5000" stop-color="#333333"/><stop offset="0.5000" stop-color="#4c4c4c"/><stop offset="0.5714" stop-color="#4c4c4c"/><stop offset="0.5714" stop-color="#cccccc"/><stop offset="0.6429" stop-color="#cccccc"/><stop offset="0.6429" stop-color="#ffffff"/><stop offset="0.7143" stop-color="#ffffff"/><stop offset="0.7143" stop-color="#d9d9d9"/><stop offset="0.7857" stop-color="#d9d9d9"/><stop offset="0.7857" stop-color="#949494"/><stop offset="0.8571" stop-color="#949494"/><stop offset="0.8571" stop-color="#7a7a7a"/><stop offset="0.9286" stop-color="#7a7a7a"/><stop offset="0.9286" stop-color="#616161"/><stop offset="1.0000" stop-color="#616161"/></linearGradient><linearGradient id="c10" x1="0" y1="0" x2="1" y2="0"><stop offset="0.0357" stop-color="#737373"/><stop offset="0.1071" stop-color="#595959"/><stop offset="0.1786" stop-color="#737373"/><stop offset="0.2500" stop-color="#858585"/><stop offset="0.3214" stop-color="#999999"/><stop offset="0.3929" stop-color="#808080"/><stop offset="0.4643" stop-color="#4c4c4c"/><stop offset="0.5357" stop-color="#4c4c4c"/><stop offset="0.6071" stop-color="#808080"/><stop offset="0.6786" stop-color="#cccccc"/><stop offset="0.7500" stop-color="#ffffff"/><stop offset="0.8214" stop-color="#bfbfbf"/><stop offset="0.8929" stop-color="#808080"/><stop offset="0.9643" stop-color="#666666"/></linearGradient><linearGradient id="cs10" x1="0" y1="0" x2="1" y2="0"><stop offset="0.0000" stop-color="#737373"/><stop offset="0.0714" stop-color="#737373"/><stop offset="0.0714" stop-color="#595959"/><stop offset="0.1429" stop-color="#595959"/><stop offset="0.1429" stop-color="#737373"/><stop offset="0.2143" stop-color="#737373"/><stop offset="0.2143" stop-color="#858585"/><stop offset="0.2857" stop-color="#858585"/><stop offset="0.2857" stop-color="#999999"/><stop offset="0.3571" stop-color="#999999"/><stop offset="0.3571" stop-color="#808080"/><stop offset="0.4286" stop-color="#808080"/><stop offset="0.4286" stop-color="#4c4c4c"/><stop offset="0.5000" stop-color="#4c4c4c"/><stop offset="0.5000" stop-color="#4c4c4c"/><stop offset="0.5714" stop-color="#4c4c4c"/><stop offset="0.5714" stop-color="#808080"/><stop offset="0.6429" stop-color="#808080"/><stop offset="0.6429" stop-color="#cccccc"/><stop offset="0.7143" stop-color="#cccccc"/><stop offset="0.7143" stop-color="#ffffff"/><stop offset="0.7857" stop-color="#ffffff"/><stop offset="0.7857" stop-color="#bfbfbf"/><stop offset="0.8571" stop-color="#bfbfbf"/><stop offset="0.8571" stop-color="#808080"/><stop offset="0.9286" stop-color="#808080"/><stop offset="0.9286" stop-color="#666666"/><stop offset="1.0000" stop-color="#666666"/></linearGradient><linearGradient id="r10" x1="0" y1="0" x2="0" y2="1"><stop offset="0.0357" stop-color="#666666"/><stop offset="0.1071" stop-color="#242424"/><stop offset="0.1786" stop-color="#808080"/><stop offset="0.2500" stop-color="#adadad"/><stop offset="0.3214" stop-color="#9e9e9e"/><stop offset="0.3929" stop-color="#6b6b6b"/><stop offset="0.4643" stop-color="#2e2e2e"/><stop offset="0.5357" stop-color="#333333"/><stop offset="0.6071" stop-color="#737373"/><stop offset="0.6786" stop-color="#d9d9d9"/><stop offset="0.7500" stop-color="#ffffff"/><stop offset="0.8214" stop-color="#d1d1d1"/><stop offset="0.8929" stop-color="#808080"/><stop offset="0.9643" stop-color="#595959"/></linearGradient><linearGradient id="rs10" x1="0" y1="0" x2="0" y2="1"><stop offset="0.0000" stop-color="#666666"/><stop offset="0.0714" stop-color="#666666"/><stop offset="0.0714" stop-color="#242424"/><stop offset="0.1429" stop-color="#242424"/><stop offset="0.1429" stop-color="#808080"/><stop offset="0.2143" stop-color="#808080"/><stop offset="0.2143" stop-color="#adadad"/><stop offset="0.2857" stop-color="#adadad"/><stop offset="0.2857" stop-color="#9e9e9e"/><stop offset="0.3571" stop-color="#9e9e9e"/><stop offset="0.3571" stop-color="#6b6b6b"/><stop offset="0.4286" stop-color="#6b6b6b"/><stop offset="0.4286" stop-color="#2e2e2e"/><stop offset="0.5000" stop-color="#2e2e2e"/><stop offset="0.5000" stop-color="#333333"/><stop offset="0.5714" stop-color="#333333"/><stop offset="0.5714" stop-color="#737373"/><stop offset="0.6429" stop-color="#737373"/><stop offset="0.6429" stop-color="#d9d9d9"/><stop offset="0.7143" stop-color="#d9d9d9"/><stop offset="0.7143" stop-color="#ffffff"/><stop offset="0.7857" stop-color="#ffffff"/><stop offset="0.7857" stop-color="#d1d1d1"/><stop offset="0.8571" stop-color="#d1d1d1"/><stop offset="0.8571" stop-color="#808080"/><stop offset="0.9286" stop-color="#808080"/><stop offset="0.9286" stop-color="#595959"/><stop offset="1.0000" stop-color="#595959"/></linearGradient><linearGradient id="c11" x1="0" y1="0" x2="1" y2="0"><stop offset="0.0357" stop-color="#767676"/><stop offset="0.1071" stop-color="#767676"/><stop offset="0.1786" stop-color="#515151"/><stop offset="0.2500" stop-color="#484848"/><stop offset="0.3214" stop-color="#4c4c4c"/><stop offset="0.3929" stop-color="#6d6d6d"/><stop offset="0.4643" stop-color="#767676"/><stop offset="0.5357" stop-color="#646464"/><stop offset="0.6071" stop-color="#646464"/><stop offset="0.6786" stop-color="#9e9e9e"/><stop offset="0.7500" stop-color="#e0e0e0"/><stop offset="0.8214" stop-color="#ffffff"/><stop offset="0.8929" stop-color="#e0e0e0"/><stop offset="0.9643" stop-color="#9e9e9e"/></linearGradient><linearGradient id="cs11" x1="0" y1="0" x2="1" y2="0"><stop offset="0.0000" stop-color="#767676"/><stop offset="0.0714" stop-color="#767676"/><stop offset="0.0714" stop-color="#767676"/><stop offset="0.1429" stop-color="#767676"/><stop offset="0.1429" stop-color="#515151"/><stop offset="0.2143" stop-color="#515151"/><stop offset="0.2143" stop-color="#484848"/><stop offset="0.2857" stop-color="#484848"/><stop offset="0.2857" stop-color="#4c4c4c"/><stop offset="0.3571" stop-color="#4c4c4c"/><stop offset="0.3571" stop-color="#6d6d6d"/><stop offset="0.4286" stop-color="#6d6d6d"/><stop offset="0.4286" stop-color="#767676"/><stop offset="0.5000" stop-color="#767676"/><stop offset="0.5000" stop-color="#646464"/><stop offset="0.5714" stop-color="#646464"/><stop offset="0.5714" stop-color="#646464"/><stop offset="0.6429" stop-color="#646464"/><stop offset="0.6429" stop-color="#9e9e9e"/><stop offset="0.7143" stop-color="#9e9e9e"/><stop offset="0.7143" stop-color="#e0e0e0"/><stop offset="0.7857" stop-color="#e0e0e0"/><stop offset="0.7857" stop-color="#ffffff"/><stop offset="0.8571" stop-color="#ffffff"/><stop offset="0.8571" stop-color="#e0e0e0"/><stop offset="0.9286" stop-color="#e0e0e0"/><stop offset="0.9286" stop-color="#9e9e9e"/><stop offset="1.0000" stop-color="#9e9e9e"/></linearGradient><linearGradient id="r11" x1="0" y1="0" x2="0" y2="1"><stop offset="0.0357" stop-color="#626262"/><stop offset="0.1071" stop-color="#111111"/><stop offset="0.1786" stop-color="#535353"/><stop offset="0.2500" stop-color="#8c8c8c"/><stop offset="0.3214" stop-color="#999999"/><stop offset="0.3929" stop-color="#6d6d6d"/><stop offset="0.4643" stop-color="#232323"/><stop offset="0.5357" stop-color="#000000"/><stop offset="0.6071" stop-color="#363636"/><stop offset="0.6786" stop-color="#9e9e9e"/><stop offset="0.7500" stop-color="#e0e0e0"/><stop offset="0.8214" stop-color="#ffffff"/><stop offset="0.8929" stop-color="#e0e0e0"/><stop offset="0.9643" stop-color="#9e9e9e"/></linearGradient><linearGradient id="rs11" x1="0" y1="0" x2="0" y2="1"><stop offset="0.0000" stop-color="#626262"/><stop offset="0.0714" stop-color="#626262"/><stop offset="0.0714" stop-color="#111111"/><stop offset="0.1429" stop-color="#111111"/><stop offset="0.1429" stop-color="#535353"/><stop offset="0.2143" stop-color="#535353"/><stop offset="0.2143" stop-color="#8c8c8c"/><stop offset="0.2857" stop-color="#8c8c8c"/><stop offset="0.2857" stop-color="#999999"/><stop offset="0.3571" stop-color="#999999"/><stop offset="0.3571" stop-color="#6d6d6d"/><stop offset="0.4286" stop-color="#6d6d6d"/><stop offset="0.4286" stop-color="#232323"/><stop offset="0.5000" stop-color="#232323"/><stop offset="0.5000" stop-color="#000000"/><stop offset="0.5714" stop-color="#000000"/><stop offset="0.5714" stop-color="#363636"/><stop offset="0.6429" stop-color="#363636"/><stop offset="0.6429" stop-color="#9e9e9e"/><stop offset="0.7143" stop-color="#9e9e9e"/><stop offset="0.7143" stop-color="#e0e0e0"/><stop offset="0.7857" stop-color="#e0e0e0"/><stop offset="0.7857" stop-color="#ffffff"/><stop offset="0.8571" stop-color="#ffffff"/><stop offset="0.8571" stop-color="#e0e0e0"/><stop offset="0.9286" stop-color="#e0e0e0"/><stop offset="0.9286" stop-color="#9e9e9e"/><stop offset="1.0000" stop-color="#9e9e9e"/></linearGradient><linearGradient id="c12" x1="0" y1="0" x2="1" y2="0"><stop offset="0.0357" stop-color="#5d5d5d"/><stop offset="0.1071" stop-color="#6c6c6c"/><stop offset="0.1786" stop-color="#6c6c6c"/><stop offset="0.2500" stop-color="#4d4d4d"/><stop offset="0.3214" stop-color="#1e1e1e"/><stop offset="0.3929" stop-color="#0e0e0e"/><stop offset="0.4643" stop-color="#2e2e2e"/><stop offset="0.5357" stop-color="#5d5d5d"/><stop offset="0.6071" stop-color="#777777"/><stop offset="0.6786" stop-color="#777777"/><stop offset="0.7500" stop-color="#9e9e9e"/><stop offset="0.8214" stop-color="#e0e0e0"/><stop offset="0.8929" stop-color="#ffffff"/><stop offset="0.9643" stop-color="#e0e0e0"/></linearGradient><linearGradient id="cs12" x1="0" y1="0" x2="1" y2="0"><stop offset="0.0000" stop-color="#5d5d5d"/><stop offset="0.0714" stop-color="#5d5d5d"/><stop offset="0.0714" stop-color="#6c6c6c"/><stop offset="0.1429" stop-color="#6c6c6c"/><stop offset="0.1429" stop-color="#6c6c6c"/><stop offset="0.2143" stop-color="#6c6c6c"/><stop offset="0.2143" stop-color="#4d4d4d"/><stop offset="0.2857" stop-color="#4d4d4d"/><stop offset="0.2857" stop-color="#1e1e1e"/><stop offset="0.3571" stop-color="#1e1e1e"/><stop offset="0.3571" stop-color="#0e0e0e"/><stop offset="0.4286" stop-color="#0e0e0e"/><stop offset="0.4286" stop-color="#2e2e2e"/><stop offset="0.5000" stop-color="#2e2e2e"/><stop offset="0.5000" stop-color="#5d5d5d"/><stop offset="0.5714" stop-color="#5d5d5d"/><stop offset="0.5714" stop-color="#777777"/><stop offset="0.6429" stop-color="#777777"/><stop offset="0.6429" stop-color="#777777"/><stop offset="0.7143" stop-color="#777777"/><stop offset="0.7143" stop-color="#9e9e9e"/><stop offset="0.7857" stop-color="#9e9e9e"/><stop offset="0.7857" stop-color="#e0e0e0"/><stop offset="0.8571" stop-color="#e0e0e0"/><stop offset="0.8571" stop-color="#ffffff"/><stop offset="0.9286" stop-color="#ffffff"/><stop offset="0.9286" stop-color="#e0e0e0"/><stop offset="1.0000" stop-color="#e0e0e0"/></linearGradient><linearGradient id="r12" x1="0" y1="0" x2="0" y2="1"><stop offset="0.0357" stop-color="#4d4d4d"/><stop offset="0.1071" stop-color="#474747"/><stop offset="0.1786" stop-color="#2e2e2e"/><stop offset="0.2500" stop-color="#0e0e0e"/><stop offset="0.3214" stop-color="#050505"/><stop offset="0.3929" stop-color="#1e1e1e"/><stop offset="0.4643" stop-color="#474747"/><stop offset="0.5357" stop-color="#717171"/><stop offset="0.6071" stop-color="#8b8b8b"/><stop offset="0.6786" stop-color="#868686"/><stop offset="0.7500" stop-color="#9e9e9e"/><stop offset="0.8214" stop-color="#e0e0e0"/><stop offset="0.8929" stop-color="#ffffff"/><stop offset="0.9643" stop-color="#e0e0e0"/></linearGradient><linearGradient id="rs12" x1="0" y1="0" x2="0" y2="1"><stop offset="0.0000" stop-color="#4d4d4d"/><stop offset="0.0714" stop-color="#4d4d4d"/><stop offset="0.0714" stop-color="#474747"/><stop offset="0.1429" stop-color="#474747"/><stop offset="0.1429" stop-color="#2e2e2e"/><stop offset="0.2143" stop-color="#2e2e2e"/><stop offset="0.2143" stop-color="#0e0e0e"/><stop offset="0.2857" stop-color="#0e0e0e"/><stop offset="0.2857" stop-color="#050505"/><stop offset="0.3571" stop-color="#050505"/><stop offset="0.3571" stop-color="#1e1e1e"/><stop offset="0.4286" stop-color="#1e1e1e"/><stop offset="0.4286" stop-color="#474747"/><stop offset="0.5000" stop-color="#474747"/><stop offset="0.5000" stop-color="#717171"/><stop offset="0.5714" stop-color="#717171"/><stop offset="0.5714" stop-color="#8b8b8b"/><stop offset="0.6429" stop-color="#8b8b8b"/><stop offset="0.6429" stop-color="#868686"/><stop offset="0.7143" stop-color="#868686"/><stop offset="0.7143" stop-color="#9e9e9e"/><stop offset="0.7857" stop-color="#9e9e9e"/><stop offset="0.7857" stop-color="#e0e0e0"/><stop offset="0.8571" stop-color="#e0e0e0"/><stop offset="0.8571" stop-color="#ffffff"/><stop offset="0.9286" stop-color="#ffffff"/><stop offset="0.9286" stop-color="#e0e0e0"/><stop offset="1.0000" stop-color="#e0e0e0"/></linearGradient><linearGradient id="c13" x1="0" y1="0" x2="1" y2="0"><stop offset="0.0357" stop-color="#474747"/><stop offset="0.1071" stop-color="#555555"/><stop offset="0.1786" stop-color="#555555"/><stop offset="0.2500" stop-color="#383838"/><stop offset="0.3214" stop-color="#1b1b1b"/><stop offset="0.3929" stop-color="#000000"/><stop offset="0.4643" stop-color="#000000"/><stop offset="0.5357" stop-color="#000000"/><stop offset="0.6071" stop-color="#1b1b1b"/><stop offset="0.6786" stop-color="#474747"/><stop offset="0.7500" stop-color="#636363"/><stop offset="0.8214" stop-color="#9e9e9e"/><stop offset="0.8929" stop-color="#e0e0e0"/><stop offset="0.9643" stop-color="#ffffff"/></linearGradient><linearGradient id="cs13" x1="0" y1="0" x2="1" y2="0"><stop offset="0.0000" stop-color="#474747"/><stop offset="0.0714" stop-color="#474747"/><stop offset="0.0714" stop-color="#555555"/><stop offset="0.1429" stop-color="#555555"/><stop offset="0.1429" stop-color="#555555"/><stop offset="0.2143" stop-color="#555555"/><stop offset="0.2143" stop-color="#383838"/><stop offset="0.2857" stop-color="#383838"/><stop offset="0.2857" stop-color="#1b1b1b"/><stop offset="0.3571" stop-color="#1b1b1b"/><stop offset="0.3571" stop-color="#000000"/><stop offset="0.4286" stop-color="#000000"/><stop offset="0.4286" stop-color="#000000"/><stop offset="0.5000" stop-color="#000000"/><stop offset="0.5000" stop-color="#000000"/><stop offset="0.5714" stop-color="#000000"/><stop offset="0.5714" stop-color="#1b1b1b"/><stop offset="0.6429" stop-color="#1b1b1b"/><stop offset="0.6429" stop-color="#474747"/><stop offset="0.7143" stop-color="#474747"/><stop offset="0.7143" stop-color="#636363"/><stop offset="0.7857" stop-color="#636363"/><stop offset="0.7857" stop-color="#9e9e9e"/><stop offset="0.8571" stop-color="#9e9e9e"/><stop offset="0.8571" stop-color="#e0e0e0"/><stop offset="0.9286" stop-color="#e0e0e0"/><stop offset="0.9286" stop-color="#ffffff"/><stop offset="1.0000" stop-color="#ffffff"/></linearGradient><linearGradient id="r13" x1="0" y1="0" x2="0" y2="1"><stop offset="0.0357" stop-color="#474747"/><stop offset="0.1071" stop-color="#414141"/><stop offset="0.1786" stop-color="#2a2a2a"/><stop offset="0.2500" stop-color="#070707"/><stop offset="0.3214" stop-color="#040404"/><stop offset="0.3929" stop-color="#1b1b1b"/><stop offset="0.4643" stop-color="#414141"/><stop offset="0.5357" stop-color="#676767"/><stop offset="0.6071" stop-color="#7b7b7b"/><stop offset="0.6786" stop-color="#777777"/><stop offset="0.7500" stop-color="#676767"/><stop offset="0.8214" stop-color="#9e9e9e"/><stop offset="0.8929" stop-color="#e0e0e0"/><stop offset="0.9643" stop-color="#ffffff"/></linearGradient><linearGradient id="rs13" x1="0" y1="0" x2="0" y2="1"><stop offset="0.0000" stop-color="#474747"/><stop offset="0.0714" stop-color="#474747"/><stop offset="0.0714" stop-color="#414141"/><stop offset="0.1429" stop-color="#414141"/><stop offset="0.1429" stop-color="#2a2a2a"/><stop offset="0.2143" stop-color="#2a2a2a"/><stop offset="0.2143" stop-color="#070707"/><stop offset="0.2857" stop-color="#070707"/><stop offset="0.2857" stop-color="#040404"/><stop offset="0.3571" stop-color="#040404"/><stop offset="0.3571" stop-color="#1b1b1b"/><stop offset="0.4286" stop-color="#1b1b1b"/><stop offset="0.4286" stop-color="#414141"/><stop offset="0.5000" stop-color="#414141"/><stop offset="0.5000" stop-color="#676767"/><stop offset="0.5714" stop-color="#676767"/><stop offset="0.5714" stop-color="#7b7b7b"/><stop offset="0.6429" stop-color="#7b7b7b"/><stop offset="0.6429" stop-color="#777777"/><stop offset="0.7143" stop-color="#777777"/><stop offset="0.7143" stop-color="#676767"/><stop offset="0.7857" stop-color="#676767"/><stop offset="0.7857" stop-color="#9e9e9e"/><stop offset="0.8571" stop-color="#9e9e9e"/><stop offset="0.8571" stop-color="#e0e0e0"/><stop offset="0.9286" stop-color="#e0e0e0"/><stop offset="0.9286" stop-color="#ffffff"/><stop offset="1.0000" stop-color="#ffffff"/></linearGradient><filter id="virb" x="0" y="0" width="100%" height="100%" color-interpolation-filters="sRGB"><feGaussianBlur stdDeviation="0.6"/><feComponentTransfer><feFuncR type="table" tableValues="0.2670 0.2726 0.2770 0.2803 0.2823 0.2832 0.2829 0.2814 0.2788 0.2752 0.2706 0.2651 0.2590 0.2522 0.2450 0.2374 0.2278 0.2201 0.2124 0.2049 0.1976 0.1906 0.1839 0.1774 0.1712 0.1651 0.1592 0.1534 0.1476 0.1419 0.1364 0.1312 0.1254 0.1218 0.1197 0.1197 0.1223 0.1281 0.1373 0.1501 0.1664 0.1858 0.2080 0.2328 0.2599 0.2889 0.3198 0.3524 0.3952 0.4310 0.4681 0.5063 0.5455 0.5857 0.6266 0.6681 0.7099 0.7519 0.7938 0.8353 0.8762 0.9162 0.9553 0.9932"/><feFuncG type="table" tableValues="0.0049 0.0256 0.0503 0.0734 0.0950 0.1157 0.1359 0.1558 0.1755 0.1949 0.2141 0.2330 0.2515 0.2698 0.2877 0.3052 0.3266 0.3433 0.3597 0.3757 0.3915 0.4071 0.4224 0.4375 0.4525 0.4674 0.4822 0.4970 0.5117 0.5265 0.5412 0.5559 0.5743 0.5891 0.6038 0.6185 0.6332 0.6477 0.6623 0.6766 0.6909 0.7049 0.7187 0.7322 0.7455 0.7584 0.7709 0.7830 0.7975 0.8085 0.8189 0.8288 0.8380 0.8467 0.8546 0.8620 0.8688 0.8750 0.8807 0.8860 0.8911 0.8961 0.9011 0.9062"/><feFuncB type="table" tableValues="0.3294 0.3531 0.3757 0.3972 0.4173 0.4361 0.4534 0.4692 0.4834 0.4960 0.5071 0.5166 0.5247 0.5316 0.5373 0.5419 0.5465 0.5494 0.5517 0.5535 0.5550 0.5561 0.5569 0.5576 0.5580 0.5581 0.5581 0.5577 0.5570 0.5560 0.5545 0.5525 0.5491 0.5456 0.5414 0.5363 0.5304 0.5235 0.5156 0.5066 0.4965 0.4853 0.4729 0.4593 0.4445 0.4284 0.4112 0.3926 0.3678 0.3465 0.3240 0.3004 0.2756 0.2499 0.2234 0.1963 0.1693 0.1432 0.1200 0.1026 0.0953 0.1007 0.1181 0.1439"/></feComponentTransfer></filter><filter id="virz" x="0" y="0" width="100%" height="100%" color-interpolation-filters="sRGB"><feGaussianBlur stdDeviation="0.55"/><feComponentTransfer><feFuncR type="table" tableValues="0.2670 0.2726 0.2770 0.2803 0.2823 0.2832 0.2829 0.2814 0.2788 0.2752 0.2706 0.2651 0.2590 0.2522 0.2450 0.2374 0.2278 0.2201 0.2124 0.2049 0.1976 0.1906 0.1839 0.1774 0.1712 0.1651 0.1592 0.1534 0.1476 0.1419 0.1364 0.1312 0.1254 0.1218 0.1197 0.1197 0.1223 0.1281 0.1373 0.1501 0.1664 0.1858 0.2080 0.2328 0.2599 0.2889 0.3198 0.3524 0.3952 0.4310 0.4681 0.5063 0.5455 0.5857 0.6266 0.6681 0.7099 0.7519 0.7938 0.8353 0.8762 0.9162 0.9553 0.9932"/><feFuncG type="table" tableValues="0.0049 0.0256 0.0503 0.0734 0.0950 0.1157 0.1359 0.1558 0.1755 0.1949 0.2141 0.2330 0.2515 0.2698 0.2877 0.3052 0.3266 0.3433 0.3597 0.3757 0.3915 0.4071 0.4224 0.4375 0.4525 0.4674 0.4822 0.4970 0.5117 0.5265 0.5412 0.5559 0.5743 0.5891 0.6038 0.6185 0.6332 0.6477 0.6623 0.6766 0.6909 0.7049 0.7187 0.7322 0.7455 0.7584 0.7709 0.7830 0.7975 0.8085 0.8189 0.8288 0.8380 0.8467 0.8546 0.8620 0.8688 0.8750 0.8807 0.8860 0.8911 0.8961 0.9011 0.9062"/><feFuncB type="table" tableValues="0.3294 0.3531 0.3757 0.3972 0.4173 0.4361 0.4534 0.4692 0.4834 0.4960 0.5071 0.5166 0.5247 0.5316 0.5373 0.5419 0.5465 0.5494 0.5517 0.5535 0.5550 0.5561 0.5569 0.5576 0.5580 0.5581 0.5581 0.5577 0.5570 0.5560 0.5545 0.5525 0.5491 0.5456 0.5414 0.5363 0.5304 0.5235 0.5156 0.5066 0.4965 0.4853 0.4729 0.4593 0.4445 0.4284 0.4112 0.3926 0.3678 0.3465 0.3240 0.3004 0.2756 0.2499 0.2234 0.1963 0.1693 0.1432 0.1200 0.1026 0.0953 0.1007 0.1181 0.1439"/></feComponentTransfer></filter><filter id="vir" x="0" y="0" width="100%" height="100%" filterUnits="objectBoundingBox" color-interpolation-filters="sRGB"><feComponentTransfer><feFuncR type="table" tableValues="0.2670 0.2726 0.2770 0.2803 0.2823 0.2832 0.2829 0.2814 0.2788 0.2752 0.2706 0.2651 0.2590 0.2522 0.2450 0.2374 0.2278 0.2201 0.2124 0.2049 0.1976 0.1906 0.1839 0.1774 0.1712 0.1651 0.1592 0.1534 0.1476 0.1419 0.1364 0.1312 0.1254 0.1218 0.1197 0.1197 0.1223 0.1281 0.1373 0.1501 0.1664 0.1858 0.2080 0.2328 0.2599 0.2889 0.3198 0.3524 0.3952 0.4310 0.4681 0.5063 0.5455 0.5857 0.6266 0.6681 0.7099 0.7519 0.7938 0.8353 0.8762 0.9162 0.9553 0.9932"/><feFuncG type="table" tableValues="0.0049 0.0256 0.0503 0.0734 0.0950 0.1157 0.1359 0.1558 0.1755 0.1949 0.2141 0.2330 0.2515 0.2698 0.2877 0.3052 0.3266 0.3433 0.3597 0.3757 0.3915 0.4071 0.4224 0.4375 0.4525 0.4674 0.4822 0.4970 0.5117 0.5265 0.5412 0.5559 0.5743 0.5891 0.6038 0.6185 0.6332 0.6477 0.6623 0.6766 0.6909 0.7049 0.7187 0.7322 0.7455 0.7584 0.7709 0.7830 0.7975 0.8085 0.8189 0.8288 0.8380 0.8467 0.8546 0.8620 0.8688 0.8750 0.8807 0.8860 0.8911 0.8961 0.9011 0.9062"/><feFuncB type="table" tableValues="0.3294 0.3531 0.3757 0.3972 0.4173 0.4361 0.4534 0.4692 0.4834 0.4960 0.5071 0.5166 0.5247 0.5316 0.5373 0.5419 0.5465 0.5494 0.5517 0.5535 0.5550 0.5561 0.5569 0.5576 0.5580 0.5581 0.5581 0.5577 0.5570 0.5560 0.5545 0.5525 0.5491 0.5456 0.5414 0.5363 0.5304 0.5235 0.5156 0.5066 0.4965 0.4853 0.4729 0.4593 0.4445 0.4284 0.4112 0.3926 0.3678 0.3465 0.3240 0.3004 0.2756 0.2499 0.2234 0.1963 0.1693 0.1432 0.1200 0.1026 0.0953 0.1007 0.1181 0.1439"/></feComponentTransfer></filter><linearGradient id="cb" x1="0" y1="0" x2="0" y2="1"><stop offset="0.000" stop-color="#fde725"/><stop offset="0.067" stop-color="#d2e21b"/><stop offset="0.133" stop-color="#a5db36"/><stop offset="0.200" stop-color="#7ad151"/><stop offset="0.267" stop-color="#54c568"/><stop offset="0.333" stop-color="#35b779"/><stop offset="0.400" stop-color="#22a884"/><stop offset="0.467" stop-color="#1f988b"/><stop offset="0.533" stop-color="#23888e"/><stop offset="0.600" stop-color="#2a788e"/><stop offset="0.667" stop-color="#31688e"/><stop offset="0.733" stop-color="#39568c"/><stop offset="0.800" stop-color="#414487"/><stop offset="0.867" stop-color="#472f7d"/><stop offset="0.933" stop-color="#481a6c"/><stop offset="1.000" stop-color="#440154"/></linearGradient><clipPath id="clip"><ellipse cx="447.0" cy="132.9" rx="95.6" ry="93.5"/></clipPath><clipPath id="cc"><rect x="16.65" y="6.65" width="15.75" height="15.70"/><rect x="35.71" y="6.65" width="15.75" height="15.70"/><rect x="54.77" y="6.65" width="15.75" height="15.70"/><rect x="73.83" y="6.65" width="15.75" height="15.70"/><rect x="92.89" y="6.65" width="15.75" height="15.70"/><rect x="111.95" y="6.65" width="15.75" height="15.70"/><rect x="131.01" y="6.65" width="15.75" height="15.70"/><rect x="150.07" y="6.65" width="15.75" height="15.70"/><rect x="169.13" y="6.65" width="15.75" height="15.70"/><rect x="188.19" y="6.65" width="15.75" height="15.70"/><rect x="207.25" y="6.65" width="15.75" height="15.70"/><rect x="226.31" y="6.65" width="15.75" height="15.70"/><rect x="245.37" y="6.65" width="15.75" height="15.70"/><rect x="264.43" y="6.65" width="15.75" height="15.70"/><rect x="16.65" y="25.21" width="15.75" height="15.70"/><rect x="35.71" y="25.21" width="15.75" height="15.70"/><rect x="54.77" y="25.21" width="15.75" height="15.70"/><rect x="73.83" y="25.21" width="15.75" height="15.70"/><rect x="92.89" y="25.21" width="15.75" height="15.70"/><rect x="111.95" y="25.21" width="15.75" height="15.70"/><rect x="131.01" y="25.21" width="15.75" height="15.70"/><rect x="150.07" y="25.21" width="15.75" height="15.70"/><rect x="169.13" y="25.21" width="15.75" height="15.70"/><rect x="188.19" y="25.21" width="15.75" height="15.70"/><rect x="207.25" y="25.21" width="15.75" height="15.70"/><rect x="226.31" y="25.21" width="15.75" height="15.70"/><rect x="245.37" y="25.21" width="15.75" height="15.70"/><rect x="264.43" y="25.21" width="15.75" height="15.70"/><rect x="16.65" y="43.77" width="15.75" height="15.70"/><rect x="35.71" y="43.77" width="15.75" height="15.70"/><rect x="54.77" y="43.77" width="15.75" height="15.70"/><rect x="73.83" y="43.77" width="15.75" height="15.70"/><rect x="92.89" y="43.77" width="15.75" height="15.70"/><rect x="111.95" y="43.77" width="15.75" height="15.70"/><rect x="131.01" y="43.77" width="15.75" height="15.70"/><rect x="150.07" y="43.77" width="15.75" height="15.70"/><rect x="169.13" y="43.77" width="15.75" height="15.70"/><rect x="188.19" y="43.77" width="15.75" height="15.70"/><rect x="207.25" y="43.77" width="15.75" height="15.70"/><rect x="226.31" y="43.77" width="15.75" height="15.70"/><rect x="245.37" y="43.77" width="15.75" height="15.70"/><rect x="264.43" y="43.77" width="15.75" height="15.70"/><rect x="16.65" y="62.33" width="15.75" height="15.70"/><rect x="35.71" y="62.33" width="15.75" height="15.70"/><rect x="54.77" y="62.33" width="15.75" height="15.70"/><rect x="73.83" y="62.33" width="15.75" height="15.70"/><rect x="92.89" y="62.33" width="15.75" height="15.70"/><rect x="111.95" y="62.33" width="15.75" height="15.70"/><rect x="131.01" y="62.33" width="15.75" height="15.70"/><rect x="150.07" y="62.33" width="15.75" height="15.70"/><rect x="169.13" y="62.33" width="15.75" height="15.70"/><rect x="188.19" y="62.33" width="15.75" height="15.70"/><rect x="207.25" y="62.33" width="15.75" height="15.70"/><rect x="226.31" y="62.33" width="15.75" height="15.70"/><rect x="245.37" y="62.33" width="15.75" height="15.70"/><rect x="264.43" y="62.33" width="15.75" height="15.70"/><rect x="16.65" y="80.89" width="15.75" height="15.70"/><rect x="35.71" y="80.89" width="15.75" height="15.70"/><rect x="54.77" y="80.89" width="15.75" height="15.70"/><rect x="73.83" y="80.89" width="15.75" height="15.70"/><rect x="92.89" y="80.89" width="15.75" height="15.70"/><rect x="111.95" y="80.89" width="15.75" height="15.70"/><rect x="131.01" y="80.89" width="15.75" height="15.70"/><rect x="150.07" y="80.89" width="15.75" height="15.70"/><rect x="169.13" y="80.89" width="15.75" height="15.70"/><rect x="188.19" y="80.89" width="15.75" height="15.70"/><rect x="207.25" y="80.89" width="15.75" height="15.70"/><rect x="226.31" y="80.89" width="15.75" height="15.70"/><rect x="245.37" y="80.89" width="15.75" height="15.70"/><rect x="264.43" y="80.89" width="15.75" height="15.70"/><rect x="16.65" y="99.45" width="15.75" height="15.70"/><rect x="35.71" y="99.45" width="15.75" height="15.70"/><rect x="54.77" y="99.45" width="15.75" height="15.70"/><rect x="73.83" y="99.45" width="15.75" height="15.70"/><rect x="92.89" y="99.45" width="15.75" height="15.70"/><rect x="111.95" y="99.45" width="15.75" height="15.70"/><rect x="131.01" y="99.45" width="15.75" height="15.70"/><rect x="150.07" y="99.45" width="15.75" height="15.70"/><rect x="169.13" y="99.45" width="15.75" height="15.70"/><rect x="188.19" y="99.45" width="15.75" height="15.70"/><rect x="207.25" y="99.45" width="15.75" height="15.70"/><rect x="226.31" y="99.45" width="15.75" height="15.70"/><rect x="245.37" y="99.45" width="15.75" height="15.70"/><rect x="264.43" y="99.45" width="15.75" height="15.70"/><rect x="16.65" y="118.01" width="15.75" height="15.70"/><rect x="35.71" y="118.01" width="15.75" height="15.70"/><rect x="54.77" y="118.01" width="15.75" height="15.70"/><rect x="73.83" y="118.01" width="15.75" height="15.70"/><rect x="92.89" y="118.01" width="15.75" height="15.70"/><rect x="111.95" y="118.01" width="15.75" height="15.70"/><rect x="131.01" y="118.01" width="15.75" height="15.70"/><rect x="150.07" y="118.01" width="15.75" height="15.70"/><rect x="169.13" y="118.01" width="15.75" height="15.70"/><rect x="188.19" y="118.01" width="15.75" height="15.70"/><rect x="207.25" y="118.01" width="15.75" height="15.70"/><rect x="226.31" y="118.01" width="15.75" height="15.70"/><rect x="245.37" y="118.01" width="15.75" height="15.70"/><rect x="264.43" y="118.01" width="15.75" height="15.70"/><rect x="16.65" y="136.57" width="15.75" height="15.70"/><rect x="35.71" y="136.57" width="15.75" height="15.70"/><rect x="54.77" y="136.57" width="15.75" height="15.70"/><rect x="73.83" y="136.57" width="15.75" height="15.70"/><rect x="92.89" y="136.57" width="15.75" height="15.70"/><rect x="111.95" y="136.57" width="15.75" height="15.70"/><rect x="131.01" y="136.57" width="15.75" height="15.70"/><rect x="150.07" y="136.57" width="15.75" height="15.70"/><rect x="169.13" y="136.57" width="15.75" height="15.70"/><rect x="188.19" y="136.57" width="15.75" height="15.70"/><rect x="207.25" y="136.57" width="15.75" height="15.70"/><rect x="226.31" y="136.57" width="15.75" height="15.70"/><rect x="245.37" y="136.57" width="15.75" height="15.70"/><rect x="264.43" y="136.57" width="15.75" height="15.70"/><rect x="16.65" y="155.13" width="15.75" height="15.70"/><rect x="35.71" y="155.13" width="15.75" height="15.70"/><rect x="54.77" y="155.13" width="15.75" height="15.70"/><rect x="73.83" y="155.13" width="15.75" height="15.70"/><rect x="92.89" y="155.13" width="15.75" height="15.70"/><rect x="111.95" y="155.13" width="15.75" height="15.70"/><rect x="131.01" y="155.13" width="15.75" height="15.70"/><rect x="150.07" y="155.13" width="15.75" height="15.70"/><rect x="169.13" y="155.13" width="15.75" height="15.70"/><rect x="188.19" y="155.13" width="15.75" height="15.70"/><rect x="207.25" y="155.13" width="15.75" height="15.70"/><rect x="226.31" y="155.13" width="15.75" height="15.70"/><rect x="245.37" y="155.13" width="15.75" height="15.70"/><rect x="264.43" y="155.13" width="15.75" height="15.70"/><rect x="16.65" y="173.69" width="15.75" height="15.70"/><rect x="35.71" y="173.69" width="15.75" height="15.70"/><rect x="54.77" y="173.69" width="15.75" height="15.70"/><rect x="73.83" y="173.69" width="15.75" height="15.70"/><rect x="92.89" y="173.69" width="15.75" height="15.70"/><rect x="111.95" y="173.69" width="15.75" height="15.70"/><rect x="131.01" y="173.69" width="15.75" height="15.70"/><rect x="150.07" y="173.69" width="15.75" height="15.70"/><rect x="169.13" y="173.69" width="15.75" height="15.70"/><rect x="188.19" y="173.69" width="15.75" height="15.70"/><rect x="207.25" y="173.69" width="15.75" height="15.70"/><rect x="226.31" y="173.69" width="15.75" height="15.70"/><rect x="245.37" y="173.69" width="15.75" height="15.70"/><rect x="264.43" y="173.69" width="15.75" height="15.70"/><rect x="16.65" y="192.25" width="15.75" height="15.70"/><rect x="35.71" y="192.25" width="15.75" height="15.70"/><rect x="54.77" y="192.25" width="15.75" height="15.70"/><rect x="73.83" y="192.25" width="15.75" height="15.70"/><rect x="92.89" y="192.25" width="15.75" height="15.70"/><rect x="111.95" y="192.25" width="15.75" height="15.70"/><rect x="131.01" y="192.25" width="15.75" height="15.70"/><rect x="150.07" y="192.25" width="15.75" height="15.70"/><rect x="169.13" y="192.25" width="15.75" height="15.70"/><rect x="188.19" y="192.25" width="15.75" height="15.70"/><rect x="207.25" y="192.25" width="15.75" height="15.70"/><rect x="226.31" y="192.25" width="15.75" height="15.70"/><rect x="245.37" y="192.25" width="15.75" height="15.70"/><rect x="264.43" y="192.25" width="15.75" height="15.70"/><rect x="16.65" y="210.81" width="15.75" height="15.70"/><rect x="35.71" y="210.81" width="15.75" height="15.70"/><rect x="54.77" y="210.81" width="15.75" height="15.70"/><rect x="73.83" y="210.81" width="15.75" height="15.70"/><rect x="92.89" y="210.81" width="15.75" height="15.70"/><rect x="111.95" y="210.81" width="15.75" height="15.70"/><rect x="131.01" y="210.81" width="15.75" height="15.70"/><rect x="150.07" y="210.81" width="15.75" height="15.70"/><rect x="169.13" y="210.81" width="15.75" height="15.70"/><rect x="188.19" y="210.81" width="15.75" height="15.70"/><rect x="207.25" y="210.81" width="15.75" height="15.70"/><rect x="226.31" y="210.81" width="15.75" height="15.70"/><rect x="245.37" y="210.81" width="15.75" height="15.70"/><rect x="264.43" y="210.81" width="15.75" height="15.70"/><rect x="16.65" y="229.37" width="15.75" height="15.70"/><rect x="35.71" y="229.37" width="15.75" height="15.70"/><rect x="54.77" y="229.37" width="15.75" height="15.70"/><rect x="73.83" y="229.37" width="15.75" height="15.70"/><rect x="92.89" y="229.37" width="15.75" height="15.70"/><rect x="111.95" y="229.37" width="15.75" height="15.70"/><rect x="131.01" y="229.37" width="15.75" height="15.70"/><rect x="150.07" y="229.37" width="15.75" height="15.70"/><rect x="169.13" y="229.37" width="15.75" height="15.70"/><rect x="188.19" y="229.37" width="15.75" height="15.70"/><rect x="207.25" y="229.37" width="15.75" height="15.70"/><rect x="226.31" y="229.37" width="15.75" height="15.70"/><rect x="245.37" y="229.37" width="15.75" height="15.70"/><rect x="264.43" y="229.37" width="15.75" height="15.70"/><rect x="16.65" y="247.93" width="15.75" height="15.70"/><rect x="35.71" y="247.93" width="15.75" height="15.70"/><rect x="54.77" y="247.93" width="15.75" height="15.70"/><rect x="73.83" y="247.93" width="15.75" height="15.70"/><rect x="92.89" y="247.93" width="15.75" height="15.70"/><rect x="111.95" y="247.93" width="15.75" height="15.70"/><rect x="131.01" y="247.93" width="15.75" height="15.70"/><rect x="150.07" y="247.93" width="15.75" height="15.70"/><rect x="169.13" y="247.93" width="15.75" height="15.70"/><rect x="188.19" y="247.93" width="15.75" height="15.70"/><rect x="207.25" y="247.93" width="15.75" height="15.70"/><rect x="226.31" y="247.93" width="15.75" height="15.70"/><rect x="245.37" y="247.93" width="15.75" height="15.70"/><rect x="264.43" y="247.93" width="15.75" height="15.70"/></clipPath></defs>
<rect width="550" height="284" fill="#fff"/>
<g filter="url(#virb)" clip-path="url(#cc)"><rect x="16.65" y="6.65" width="15.75" height="15.70" fill="url(#r0)"/><rect x="16.65" y="6.65" width="15.75" height="15.70" fill="url(#c0)" opacity=".5"/><rect x="35.71" y="6.65" width="15.75" height="15.70" fill="url(#r0)"/><rect x="35.71" y="6.65" width="15.75" height="15.70" fill="url(#c1)" opacity=".5"/><rect x="54.77" y="6.65" width="15.75" height="15.70" fill="url(#r0)"/><rect x="54.77" y="6.65" width="15.75" height="15.70" fill="url(#c2)" opacity=".5"/><rect x="73.83" y="6.65" width="15.75" height="15.70" fill="url(#r0)"/><rect x="73.83" y="6.65" width="15.75" height="15.70" fill="url(#c3)" opacity=".5"/><rect x="92.89" y="6.65" width="15.75" height="15.70" fill="url(#r0)"/><rect x="92.89" y="6.65" width="15.75" height="15.70" fill="url(#c4)" opacity=".5"/><rect x="111.95" y="6.65" width="15.75" height="15.70" fill="url(#r0)"/><rect x="111.95" y="6.65" width="15.75" height="15.70" fill="url(#c5)" opacity=".5"/><rect x="131.01" y="6.65" width="15.75" height="15.70" fill="url(#r0)"/><rect x="131.01" y="6.65" width="15.75" height="15.70" fill="url(#c6)" opacity=".5"/><rect x="150.07" y="6.65" width="15.75" height="15.70" fill="url(#r0)"/><rect x="150.07" y="6.65" width="15.75" height="15.70" fill="url(#c7)" opacity=".5"/><rect x="169.13" y="6.65" width="15.75" height="15.70" fill="url(#r0)"/><rect x="169.13" y="6.65" width="15.75" height="15.70" fill="url(#c8)" opacity=".5"/><rect x="188.19" y="6.65" width="15.75" height="15.70" fill="url(#r0)"/><rect x="188.19" y="6.65" width="15.75" height="15.70" fill="url(#c9)" opacity=".5"/><rect x="207.25" y="6.65" width="15.75" height="15.70" fill="url(#r0)"/><rect x="207.25" y="6.65" width="15.75" height="15.70" fill="url(#c10)" opacity=".5"/><rect x="226.31" y="6.65" width="15.75" height="15.70" fill="url(#r0)"/><rect x="226.31" y="6.65" width="15.75" height="15.70" fill="url(#c11)" opacity=".5"/><rect x="245.37" y="6.65" width="15.75" height="15.70" fill="url(#r0)"/><rect x="245.37" y="6.65" width="15.75" height="15.70" fill="url(#c12)" opacity=".5"/><rect x="264.43" y="6.65" width="15.75" height="15.70" fill="url(#r0)"/><rect x="264.43" y="6.65" width="15.75" height="15.70" fill="url(#c13)" opacity=".5"/><rect x="16.65" y="25.21" width="15.75" height="15.70" fill="url(#r1)"/><rect x="16.65" y="25.21" width="15.75" height="15.70" fill="url(#c0)" opacity=".5"/><rect x="35.71" y="25.21" width="15.75" height="15.70" fill="url(#r1)"/><rect x="35.71" y="25.21" width="15.75" height="15.70" fill="url(#c1)" opacity=".5"/><rect x="54.77" y="25.21" width="15.75" height="15.70" fill="url(#r1)"/><rect x="54.77" y="25.21" width="15.75" height="15.70" fill="url(#c2)" opacity=".5"/><rect x="73.83" y="25.21" width="15.75" height="15.70" fill="url(#r1)"/><rect x="73.83" y="25.21" width="15.75" height="15.70" fill="url(#c3)" opacity=".5"/><rect x="92.89" y="25.21" width="15.75" height="15.70" fill="url(#r1)"/><rect x="92.89" y="25.21" width="15.75" height="15.70" fill="url(#c4)" opacity=".5"/><rect x="111.95" y="25.21" width="15.75" height="15.70" fill="url(#r1)"/><rect x="111.95" y="25.21" width="15.75" height="15.70" fill="url(#c5)" opacity=".5"/><rect x="131.01" y="25.21" width="15.75" height="15.70" fill="url(#r1)"/><rect x="131.01" y="25.21" width="15.75" height="15.70" fill="url(#c6)" opacity=".5"/><rect x="150.07" y="25.21" width="15.75" height="15.70" fill="url(#r1)"/><rect x="150.07" y="25.21" width="15.75" height="15.70" fill="url(#c7)" opacity=".5"/><rect x="169.13" y="25.21" width="15.75" height="15.70" fill="url(#r1)"/><rect x="169.13" y="25.21" width="15.75" height="15.70" fill="url(#c8)" opacity=".5"/><rect x="188.19" y="25.21" width="15.75" height="15.70" fill="url(#r1)"/><rect x="188.19" y="25.21" width="15.75" height="15.70" fill="url(#c9)" opacity=".5"/><rect x="207.25" y="25.21" width="15.75" height="15.70" fill="url(#r1)"/><rect x="207.25" y="25.21" width="15.75" height="15.70" fill="url(#c10)" opacity=".5"/><rect x="226.31" y="25.21" width="15.75" height="15.70" fill="url(#r1)"/><rect x="226.31" y="25.21" width="15.75" height="15.70" fill="url(#c11)" opacity=".5"/><rect x="245.37" y="25.21" width="15.75" height="15.70" fill="url(#r1)"/><rect x="245.37" y="25.21" width="15.75" height="15.70" fill="url(#c12)" opacity=".5"/><rect x="264.43" y="25.21" width="15.75" height="15.70" fill="url(#r1)"/><rect x="264.43" y="25.21" width="15.75" height="15.70" fill="url(#c13)" opacity=".5"/><rect x="16.65" y="43.77" width="15.75" height="15.70" fill="url(#r2)"/><rect x="16.65" y="43.77" width="15.75" height="15.70" fill="url(#c0)" opacity=".5"/><rect x="35.71" y="43.77" width="15.75" height="15.70" fill="url(#r2)"/><rect x="35.71" y="43.77" width="15.75" height="15.70" fill="url(#c1)" opacity=".5"/><rect x="54.77" y="43.77" width="15.75" height="15.70" fill="url(#r2)"/><rect x="54.77" y="43.77" width="15.75" height="15.70" fill="url(#c2)" opacity=".5"/><rect x="73.83" y="43.77" width="15.75" height="15.70" fill="url(#r2)"/><rect x="73.83" y="43.77" width="15.75" height="15.70" fill="url(#c3)" opacity=".5"/><rect x="92.89" y="43.77" width="15.75" height="15.70" fill="url(#r2)"/><rect x="92.89" y="43.77" width="15.75" height="15.70" fill="url(#c4)" opacity=".5"/><rect x="111.95" y="43.77" width="15.75" height="15.70" fill="url(#r2)"/><rect x="111.95" y="43.77" width="15.75" height="15.70" fill="url(#c5)" opacity=".5"/><rect x="131.01" y="43.77" width="15.75" height="15.70" fill="url(#r2)"/><rect x="131.01" y="43.77" width="15.75" height="15.70" fill="url(#c6)" opacity=".5"/><rect x="150.07" y="43.77" width="15.75" height="15.70" fill="url(#r2)"/><rect x="150.07" y="43.77" width="15.75" height="15.70" fill="url(#c7)" opacity=".5"/><rect x="169.13" y="43.77" width="15.75" height="15.70" fill="url(#r2)"/><rect x="169.13" y="43.77" width="15.75" height="15.70" fill="url(#c8)" opacity=".5"/><rect x="188.19" y="43.77" width="15.75" height="15.70" fill="url(#r2)"/><rect x="188.19" y="43.77" width="15.75" height="15.70" fill="url(#c9)" opacity=".5"/><rect x="207.25" y="43.77" width="15.75" height="15.70" fill="url(#r2)"/><rect x="207.25" y="43.77" width="15.75" height="15.70" fill="url(#c10)" opacity=".5"/><rect x="226.31" y="43.77" width="15.75" height="15.70" fill="url(#r2)"/><rect x="226.31" y="43.77" width="15.75" height="15.70" fill="url(#c11)" opacity=".5"/><rect x="245.37" y="43.77" width="15.75" height="15.70" fill="url(#r2)"/><rect x="245.37" y="43.77" width="15.75" height="15.70" fill="url(#c12)" opacity=".5"/><rect x="264.43" y="43.77" width="15.75" height="15.70" fill="url(#r2)"/><rect x="264.43" y="43.77" width="15.75" height="15.70" fill="url(#c13)" opacity=".5"/><rect x="16.65" y="62.33" width="15.75" height="15.70" fill="url(#r3)"/><rect x="16.65" y="62.33" width="15.75" height="15.70" fill="url(#c0)" opacity=".5"/><rect x="35.71" y="62.33" width="15.75" height="15.70" fill="url(#r3)"/><rect x="35.71" y="62.33" width="15.75" height="15.70" fill="url(#c1)" opacity=".5"/><rect x="54.77" y="62.33" width="15.75" height="15.70" fill="url(#r3)"/><rect x="54.77" y="62.33" width="15.75" height="15.70" fill="url(#c2)" opacity=".5"/><rect x="73.83" y="62.33" width="15.75" height="15.70" fill="url(#r3)"/><rect x="73.83" y="62.33" width="15.75" height="15.70" fill="url(#c3)" opacity=".5"/><rect x="92.89" y="62.33" width="15.75" height="15.70" fill="url(#r3)"/><rect x="92.89" y="62.33" width="15.75" height="15.70" fill="url(#c4)" opacity=".5"/><rect x="111.95" y="62.33" width="15.75" height="15.70" fill="url(#r3)"/><rect x="111.95" y="62.33" width="15.75" height="15.70" fill="url(#c5)" opacity=".5"/><rect x="131.01" y="62.33" width="15.75" height="15.70" fill="url(#r3)"/><rect x="131.01" y="62.33" width="15.75" height="15.70" fill="url(#c6)" opacity=".5"/><rect x="150.07" y="62.33" width="15.75" height="15.70" fill="url(#r3)"/><rect x="150.07" y="62.33" width="15.75" height="15.70" fill="url(#c7)" opacity=".5"/><rect x="169.13" y="62.33" width="15.75" height="15.70" fill="url(#r3)"/><rect x="169.13" y="62.33" width="15.75" height="15.70" fill="url(#c8)" opacity=".5"/><rect x="188.19" y="62.33" width="15.75" height="15.70" fill="url(#r3)"/><rect x="188.19" y="62.33" width="15.75" height="15.70" fill="url(#c9)" opacity=".5"/><rect x="207.25" y="62.33" width="15.75" height="15.70" fill="url(#r3)"/><rect x="207.25" y="62.33" width="15.75" height="15.70" fill="url(#c10)" opacity=".5"/><rect x="226.31" y="62.33" width="15.75" height="15.70" fill="url(#r3)"/><rect x="226.31" y="62.33" width="15.75" height="15.70" fill="url(#c11)" opacity=".5"/><rect x="245.37" y="62.33" width="15.75" height="15.70" fill="url(#r3)"/><rect x="245.37" y="62.33" width="15.75" height="15.70" fill="url(#c12)" opacity=".5"/><rect x="264.43" y="62.33" width="15.75" height="15.70" fill="url(#r3)"/><rect x="264.43" y="62.33" width="15.75" height="15.70" fill="url(#c13)" opacity=".5"/><rect x="16.65" y="80.89" width="15.75" height="15.70" fill="url(#r4)"/><rect x="16.65" y="80.89" width="15.75" height="15.70" fill="url(#c0)" opacity=".5"/><rect x="35.71" y="80.89" width="15.75" height="15.70" fill="url(#r4)"/><rect x="35.71" y="80.89" width="15.75" height="15.70" fill="url(#c1)" opacity=".5"/><rect x="54.77" y="80.89" width="15.75" height="15.70" fill="url(#r4)"/><rect x="54.77" y="80.89" width="15.75" height="15.70" fill="url(#c2)" opacity=".5"/><rect x="73.83" y="80.89" width="15.75" height="15.70" fill="url(#r4)"/><rect x="73.83" y="80.89" width="15.75" height="15.70" fill="url(#c3)" opacity=".5"/><rect x="92.89" y="80.89" width="15.75" height="15.70" fill="url(#r4)"/><rect x="92.89" y="80.89" width="15.75" height="15.70" fill="url(#c4)" opacity=".5"/><rect x="111.95" y="80.89" width="15.75" height="15.70" fill="url(#r4)"/><rect x="111.95" y="80.89" width="15.75" height="15.70" fill="url(#c5)" opacity=".5"/><rect x="131.01" y="80.89" width="15.75" height="15.70" fill="url(#r4)"/><rect x="131.01" y="80.89" width="15.75" height="15.70" fill="url(#c6)" opacity=".5"/><rect x="150.07" y="80.89" width="15.75" height="15.70" fill="url(#r4)"/><rect x="150.07" y="80.89" width="15.75" height="15.70" fill="url(#c7)" opacity=".5"/><rect x="169.13" y="80.89" width="15.75" height="15.70" fill="url(#r4)"/><rect x="169.13" y="80.89" width="15.75" height="15.70" fill="url(#c8)" opacity=".5"/><rect x="188.19" y="80.89" width="15.75" height="15.70" fill="url(#r4)"/><rect x="188.19" y="80.89" width="15.75" height="15.70" fill="url(#c9)" opacity=".5"/><rect x="207.25" y="80.89" width="15.75" height="15.70" fill="url(#r4)"/><rect x="207.25" y="80.89" width="15.75" height="15.70" fill="url(#c10)" opacity=".5"/><rect x="226.31" y="80.89" width="15.75" height="15.70" fill="url(#r4)"/><rect x="226.31" y="80.89" width="15.75" height="15.70" fill="url(#c11)" opacity=".5"/><rect x="245.37" y="80.89" width="15.75" height="15.70" fill="url(#r4)"/><rect x="245.37" y="80.89" width="15.75" height="15.70" fill="url(#c12)" opacity=".5"/><rect x="264.43" y="80.89" width="15.75" height="15.70" fill="url(#r4)"/><rect x="264.43" y="80.89" width="15.75" height="15.70" fill="url(#c13)" opacity=".5"/><rect x="16.65" y="99.45" width="15.75" height="15.70" fill="url(#r5)"/><rect x="16.65" y="99.45" width="15.75" height="15.70" fill="url(#c0)" opacity=".5"/><rect x="35.71" y="99.45" width="15.75" height="15.70" fill="url(#r5)"/><rect x="35.71" y="99.45" width="15.75" height="15.70" fill="url(#c1)" opacity=".5"/><rect x="54.77" y="99.45" width="15.75" height="15.70" fill="url(#r5)"/><rect x="54.77" y="99.45" width="15.75" height="15.70" fill="url(#c2)" opacity=".5"/><rect x="73.83" y="99.45" width="15.75" height="15.70" fill="url(#r5)"/><rect x="73.83" y="99.45" width="15.75" height="15.70" fill="url(#c3)" opacity=".5"/><rect x="92.89" y="99.45" width="15.75" height="15.70" fill="url(#r5)"/><rect x="92.89" y="99.45" width="15.75" height="15.70" fill="url(#c4)" opacity=".5"/><rect x="111.95" y="99.45" width="15.75" height="15.70" fill="url(#r5)"/><rect x="111.95" y="99.45" width="15.75" height="15.70" fill="url(#c5)" opacity=".5"/><rect x="131.01" y="99.45" width="15.75" height="15.70" fill="url(#r5)"/><rect x="131.01" y="99.45" width="15.75" height="15.70" fill="url(#c6)" opacity=".5"/><rect x="150.07" y="99.45" width="15.75" height="15.70" fill="url(#r5)"/><rect x="150.07" y="99.45" width="15.75" height="15.70" fill="url(#c7)" opacity=".5"/><rect x="169.13" y="99.45" width="15.75" height="15.70" fill="url(#r5)"/><rect x="169.13" y="99.45" width="15.75" height="15.70" fill="url(#c8)" opacity=".5"/><rect x="188.19" y="99.45" width="15.75" height="15.70" fill="url(#r5)"/><rect x="188.19" y="99.45" width="15.75" height="15.70" fill="url(#c9)" opacity=".5"/><rect x="207.25" y="99.45" width="15.75" height="15.70" fill="url(#r5)"/><rect x="207.25" y="99.45" width="15.75" height="15.70" fill="url(#c10)" opacity=".5"/><rect x="226.31" y="99.45" width="15.75" height="15.70" fill="url(#r5)"/><rect x="226.31" y="99.45" width="15.75" height="15.70" fill="url(#c11)" opacity=".5"/><rect x="245.37" y="99.45" width="15.75" height="15.70" fill="url(#r5)"/><rect x="245.37" y="99.45" width="15.75" height="15.70" fill="url(#c12)" opacity=".5"/><rect x="264.43" y="99.45" width="15.75" height="15.70" fill="url(#r5)"/><rect x="264.43" y="99.45" width="15.75" height="15.70" fill="url(#c13)" opacity=".5"/><rect x="16.65" y="118.01" width="15.75" height="15.70" fill="url(#r6)"/><rect x="16.65" y="118.01" width="15.75" height="15.70" fill="url(#c0)" opacity=".5"/><rect x="35.71" y="118.01" width="15.75" height="15.70" fill="url(#r6)"/><rect x="35.71" y="118.01" width="15.75" height="15.70" fill="url(#c1)" opacity=".5"/><rect x="54.77" y="118.01" width="15.75" height="15.70" fill="url(#r6)"/><rect x="54.77" y="118.01" width="15.75" height="15.70" fill="url(#c2)" opacity=".5"/><rect x="73.83" y="118.01" width="15.75" height="15.70" fill="url(#r6)"/><rect x="73.83" y="118.01" width="15.75" height="15.70" fill="url(#c3)" opacity=".5"/><rect x="92.89" y="118.01" width="15.75" height="15.70" fill="url(#r6)"/><rect x="92.89" y="118.01" width="15.75" height="15.70" fill="url(#c4)" opacity=".5"/><rect x="111.95" y="118.01" width="15.75" height="15.70" fill="url(#r6)"/><rect x="111.95" y="118.01" width="15.75" height="15.70" fill="url(#c5)" opacity=".5"/><rect x="131.01" y="118.01" width="15.75" height="15.70" fill="url(#r6)"/><rect x="131.01" y="118.01" width="15.75" height="15.70" fill="url(#c6)" opacity=".5"/><rect x="150.07" y="118.01" width="15.75" height="15.70" fill="url(#r6)"/><rect x="150.07" y="118.01" width="15.75" height="15.70" fill="url(#c7)" opacity=".5"/><rect x="169.13" y="118.01" width="15.75" height="15.70" fill="url(#r6)"/><rect x="169.13" y="118.01" width="15.75" height="15.70" fill="url(#c8)" opacity=".5"/><rect x="188.19" y="118.01" width="15.75" height="15.70" fill="url(#r6)"/><rect x="188.19" y="118.01" width="15.75" height="15.70" fill="url(#c9)" opacity=".5"/><rect x="207.25" y="118.01" width="15.75" height="15.70" fill="url(#r6)"/><rect x="207.25" y="118.01" width="15.75" height="15.70" fill="url(#c10)" opacity=".5"/><rect x="226.31" y="118.01" width="15.75" height="15.70" fill="url(#r6)"/><rect x="226.31" y="118.01" width="15.75" height="15.70" fill="url(#c11)" opacity=".5"/><rect x="245.37" y="118.01" width="15.75" height="15.70" fill="url(#r6)"/><rect x="245.37" y="118.01" width="15.75" height="15.70" fill="url(#c12)" opacity=".5"/><rect x="264.43" y="118.01" width="15.75" height="15.70" fill="url(#r6)"/><rect x="264.43" y="118.01" width="15.75" height="15.70" fill="url(#c13)" opacity=".5"/><rect x="16.65" y="136.57" width="15.75" height="15.70" fill="url(#r7)"/><rect x="16.65" y="136.57" width="15.75" height="15.70" fill="url(#c0)" opacity=".5"/><rect x="35.71" y="136.57" width="15.75" height="15.70" fill="url(#r7)"/><rect x="35.71" y="136.57" width="15.75" height="15.70" fill="url(#c1)" opacity=".5"/><rect x="54.77" y="136.57" width="15.75" height="15.70" fill="url(#r7)"/><rect x="54.77" y="136.57" width="15.75" height="15.70" fill="url(#c2)" opacity=".5"/><rect x="73.83" y="136.57" width="15.75" height="15.70" fill="url(#r7)"/><rect x="73.83" y="136.57" width="15.75" height="15.70" fill="url(#c3)" opacity=".5"/><rect x="92.89" y="136.57" width="15.75" height="15.70" fill="url(#r7)"/><rect x="92.89" y="136.57" width="15.75" height="15.70" fill="url(#c4)" opacity=".5"/><rect x="111.95" y="136.57" width="15.75" height="15.70" fill="url(#r7)"/><rect x="111.95" y="136.57" width="15.75" height="15.70" fill="url(#c5)" opacity=".5"/><rect x="131.01" y="136.57" width="15.75" height="15.70" fill="url(#r7)"/><rect x="131.01" y="136.57" width="15.75" height="15.70" fill="url(#c6)" opacity=".5"/><rect x="150.07" y="136.57" width="15.75" height="15.70" fill="url(#r7)"/><rect x="150.07" y="136.57" width="15.75" height="15.70" fill="url(#c7)" opacity=".5"/><rect x="169.13" y="136.57" width="15.75" height="15.70" fill="url(#r7)"/><rect x="169.13" y="136.57" width="15.75" height="15.70" fill="url(#c8)" opacity=".5"/><rect x="188.19" y="136.57" width="15.75" height="15.70" fill="url(#r7)"/><rect x="188.19" y="136.57" width="15.75" height="15.70" fill="url(#c9)" opacity=".5"/><rect x="207.25" y="136.57" width="15.75" height="15.70" fill="url(#r7)"/><rect x="207.25" y="136.57" width="15.75" height="15.70" fill="url(#c10)" opacity=".5"/><rect x="226.31" y="136.57" width="15.75" height="15.70" fill="url(#r7)"/><rect x="226.31" y="136.57" width="15.75" height="15.70" fill="url(#c11)" opacity=".5"/><rect x="245.37" y="136.57" width="15.75" height="15.70" fill="url(#r7)"/><rect x="245.37" y="136.57" width="15.75" height="15.70" fill="url(#c12)" opacity=".5"/><rect x="264.43" y="136.57" width="15.75" height="15.70" fill="url(#r7)"/><rect x="264.43" y="136.57" width="15.75" height="15.70" fill="url(#c13)" opacity=".5"/><rect x="16.65" y="155.13" width="15.75" height="15.70" fill="url(#r8)"/><rect x="16.65" y="155.13" width="15.75" height="15.70" fill="url(#c0)" opacity=".5"/><rect x="35.71" y="155.13" width="15.75" height="15.70" fill="url(#r8)"/><rect x="35.71" y="155.13" width="15.75" height="15.70" fill="url(#c1)" opacity=".5"/><rect x="54.77" y="155.13" width="15.75" height="15.70" fill="url(#r8)"/><rect x="54.77" y="155.13" width="15.75" height="15.70" fill="url(#c2)" opacity=".5"/><rect x="73.83" y="155.13" width="15.75" height="15.70" fill="url(#r8)"/><rect x="73.83" y="155.13" width="15.75" height="15.70" fill="url(#c3)" opacity=".5"/><rect x="92.89" y="155.13" width="15.75" height="15.70" fill="url(#r8)"/><rect x="92.89" y="155.13" width="15.75" height="15.70" fill="url(#c4)" opacity=".5"/><rect x="111.95" y="155.13" width="15.75" height="15.70" fill="url(#r8)"/><rect x="111.95" y="155.13" width="15.75" height="15.70" fill="url(#c5)" opacity=".5"/><rect x="131.01" y="155.13" width="15.75" height="15.70" fill="url(#r8)"/><rect x="131.01" y="155.13" width="15.75" height="15.70" fill="url(#c6)" opacity=".5"/><rect x="150.07" y="155.13" width="15.75" height="15.70" fill="url(#r8)"/><rect x="150.07" y="155.13" width="15.75" height="15.70" fill="url(#c7)" opacity=".5"/><rect x="169.13" y="155.13" width="15.75" height="15.70" fill="url(#r8)"/><rect x="169.13" y="155.13" width="15.75" height="15.70" fill="url(#c8)" opacity=".5"/><rect x="188.19" y="155.13" width="15.75" height="15.70" fill="url(#r8)"/><rect x="188.19" y="155.13" width="15.75" height="15.70" fill="url(#c9)" opacity=".5"/><rect x="207.25" y="155.13" width="15.75" height="15.70" fill="url(#r8)"/><rect x="207.25" y="155.13" width="15.75" height="15.70" fill="url(#c10)" opacity=".5"/><rect x="226.31" y="155.13" width="15.75" height="15.70" fill="url(#r8)"/><rect x="226.31" y="155.13" width="15.75" height="15.70" fill="url(#c11)" opacity=".5"/><rect x="245.37" y="155.13" width="15.75" height="15.70" fill="url(#r8)"/><rect x="245.37" y="155.13" width="15.75" height="15.70" fill="url(#c12)" opacity=".5"/><rect x="264.43" y="155.13" width="15.75" height="15.70" fill="url(#r8)"/><rect x="264.43" y="155.13" width="15.75" height="15.70" fill="url(#c13)" opacity=".5"/><rect x="16.65" y="173.69" width="15.75" height="15.70" fill="url(#r9)"/><rect x="16.65" y="173.69" width="15.75" height="15.70" fill="url(#c0)" opacity=".5"/><rect x="35.71" y="173.69" width="15.75" height="15.70" fill="url(#r9)"/><rect x="35.71" y="173.69" width="15.75" height="15.70" fill="url(#c1)" opacity=".5"/><rect x="54.77" y="173.69" width="15.75" height="15.70" fill="url(#r9)"/><rect x="54.77" y="173.69" width="15.75" height="15.70" fill="url(#c2)" opacity=".5"/><rect x="73.83" y="173.69" width="15.75" height="15.70" fill="url(#r9)"/><rect x="73.83" y="173.69" width="15.75" height="15.70" fill="url(#c3)" opacity=".5"/><rect x="92.89" y="173.69" width="15.75" height="15.70" fill="url(#r9)"/><rect x="92.89" y="173.69" width="15.75" height="15.70" fill="url(#c4)" opacity=".5"/><rect x="111.95" y="173.69" width="15.75" height="15.70" fill="url(#r9)"/><rect x="111.95" y="173.69" width="15.75" height="15.70" fill="url(#c5)" opacity=".5"/><rect x="131.01" y="173.69" width="15.75" height="15.70" fill="url(#r9)"/><rect x="131.01" y="173.69" width="15.75" height="15.70" fill="url(#c6)" opacity=".5"/><rect x="150.07" y="173.69" width="15.75" height="15.70" fill="url(#r9)"/><rect x="150.07" y="173.69" width="15.75" height="15.70" fill="url(#c7)" opacity=".5"/><rect x="169.13" y="173.69" width="15.75" height="15.70" fill="url(#r9)"/><rect x="169.13" y="173.69" width="15.75" height="15.70" fill="url(#c8)" opacity=".5"/><rect x="188.19" y="173.69" width="15.75" height="15.70" fill="url(#r9)"/><rect x="188.19" y="173.69" width="15.75" height="15.70" fill="url(#c9)" opacity=".5"/><rect x="207.25" y="173.69" width="15.75" height="15.70" fill="url(#r9)"/><rect x="207.25" y="173.69" width="15.75" height="15.70" fill="url(#c10)" opacity=".5"/><rect x="226.31" y="173.69" width="15.75" height="15.70" fill="url(#r9)"/><rect x="226.31" y="173.69" width="15.75" height="15.70" fill="url(#c11)" opacity=".5"/><rect x="245.37" y="173.69" width="15.75" height="15.70" fill="url(#r9)"/><rect x="245.37" y="173.69" width="15.75" height="15.70" fill="url(#c12)" opacity=".5"/><rect x="264.43" y="173.69" width="15.75" height="15.70" fill="url(#r9)"/><rect x="264.43" y="173.69" width="15.75" height="15.70" fill="url(#c13)" opacity=".5"/><rect x="16.65" y="192.25" width="15.75" height="15.70" fill="url(#r10)"/><rect x="16.65" y="192.25" width="15.75" height="15.70" fill="url(#c0)" opacity=".5"/><rect x="35.71" y="192.25" width="15.75" height="15.70" fill="url(#r10)"/><rect x="35.71" y="192.25" width="15.75" height="15.70" fill="url(#c1)" opacity=".5"/><rect x="54.77" y="192.25" width="15.75" height="15.70" fill="url(#r10)"/><rect x="54.77" y="192.25" width="15.75" height="15.70" fill="url(#c2)" opacity=".5"/><rect x="73.83" y="192.25" width="15.75" height="15.70" fill="url(#r10)"/><rect x="73.83" y="192.25" width="15.75" height="15.70" fill="url(#c3)" opacity=".5"/><rect x="92.89" y="192.25" width="15.75" height="15.70" fill="url(#r10)"/><rect x="92.89" y="192.25" width="15.75" height="15.70" fill="url(#c4)" opacity=".5"/><rect x="111.95" y="192.25" width="15.75" height="15.70" fill="url(#r10)"/><rect x="111.95" y="192.25" width="15.75" height="15.70" fill="url(#c5)" opacity=".5"/><rect x="131.01" y="192.25" width="15.75" height="15.70" fill="url(#r10)"/><rect x="131.01" y="192.25" width="15.75" height="15.70" fill="url(#c6)" opacity=".5"/><rect x="150.07" y="192.25" width="15.75" height="15.70" fill="url(#r10)"/><rect x="150.07" y="192.25" width="15.75" height="15.70" fill="url(#c7)" opacity=".5"/><rect x="169.13" y="192.25" width="15.75" height="15.70" fill="url(#r10)"/><rect x="169.13" y="192.25" width="15.75" height="15.70" fill="url(#c8)" opacity=".5"/><rect x="188.19" y="192.25" width="15.75" height="15.70" fill="url(#r10)"/><rect x="188.19" y="192.25" width="15.75" height="15.70" fill="url(#c9)" opacity=".5"/><rect x="207.25" y="192.25" width="15.75" height="15.70" fill="url(#r10)"/><rect x="207.25" y="192.25" width="15.75" height="15.70" fill="url(#c10)" opacity=".5"/><rect x="226.31" y="192.25" width="15.75" height="15.70" fill="url(#r10)"/><rect x="226.31" y="192.25" width="15.75" height="15.70" fill="url(#c11)" opacity=".5"/><rect x="245.37" y="192.25" width="15.75" height="15.70" fill="url(#r10)"/><rect x="245.37" y="192.25" width="15.75" height="15.70" fill="url(#c12)" opacity=".5"/><rect x="264.43" y="192.25" width="15.75" height="15.70" fill="url(#r10)"/><rect x="264.43" y="192.25" width="15.75" height="15.70" fill="url(#c13)" opacity=".5"/><rect x="16.65" y="210.81" width="15.75" height="15.70" fill="url(#r11)"/><rect x="16.65" y="210.81" width="15.75" height="15.70" fill="url(#c0)" opacity=".5"/><rect x="35.71" y="210.81" width="15.75" height="15.70" fill="url(#r11)"/><rect x="35.71" y="210.81" width="15.75" height="15.70" fill="url(#c1)" opacity=".5"/><rect x="54.77" y="210.81" width="15.75" height="15.70" fill="url(#r11)"/><rect x="54.77" y="210.81" width="15.75" height="15.70" fill="url(#c2)" opacity=".5"/><rect x="73.83" y="210.81" width="15.75" height="15.70" fill="url(#r11)"/><rect x="73.83" y="210.81" width="15.75" height="15.70" fill="url(#c3)" opacity=".5"/><rect x="92.89" y="210.81" width="15.75" height="15.70" fill="url(#r11)"/><rect x="92.89" y="210.81" width="15.75" height="15.70" fill="url(#c4)" opacity=".5"/><rect x="111.95" y="210.81" width="15.75" height="15.70" fill="url(#r11)"/><rect x="111.95" y="210.81" width="15.75" height="15.70" fill="url(#c5)" opacity=".5"/><rect x="131.01" y="210.81" width="15.75" height="15.70" fill="url(#r11)"/><rect x="131.01" y="210.81" width="15.75" height="15.70" fill="url(#c6)" opacity=".5"/><rect x="150.07" y="210.81" width="15.75" height="15.70" fill="url(#r11)"/><rect x="150.07" y="210.81" width="15.75" height="15.70" fill="url(#c7)" opacity=".5"/><rect x="169.13" y="210.81" width="15.75" height="15.70" fill="url(#r11)"/><rect x="169.13" y="210.81" width="15.75" height="15.70" fill="url(#c8)" opacity=".5"/><rect x="188.19" y="210.81" width="15.75" height="15.70" fill="url(#r11)"/><rect x="188.19" y="210.81" width="15.75" height="15.70" fill="url(#c9)" opacity=".5"/><rect x="207.25" y="210.81" width="15.75" height="15.70" fill="url(#r11)"/><rect x="207.25" y="210.81" width="15.75" height="15.70" fill="url(#c10)" opacity=".5"/><rect x="226.31" y="210.81" width="15.75" height="15.70" fill="url(#r11)"/><rect x="226.31" y="210.81" width="15.75" height="15.70" fill="url(#c11)" opacity=".5"/><rect x="245.37" y="210.81" width="15.75" height="15.70" fill="url(#r11)"/><rect x="245.37" y="210.81" width="15.75" height="15.70" fill="url(#c12)" opacity=".5"/><rect x="264.43" y="210.81" width="15.75" height="15.70" fill="url(#r11)"/><rect x="264.43" y="210.81" width="15.75" height="15.70" fill="url(#c13)" opacity=".5"/><rect x="16.65" y="229.37" width="15.75" height="15.70" fill="url(#r12)"/><rect x="16.65" y="229.37" width="15.75" height="15.70" fill="url(#c0)" opacity=".5"/><rect x="35.71" y="229.37" width="15.75" height="15.70" fill="url(#r12)"/><rect x="35.71" y="229.37" width="15.75" height="15.70" fill="url(#c1)" opacity=".5"/><rect x="54.77" y="229.37" width="15.75" height="15.70" fill="url(#r12)"/><rect x="54.77" y="229.37" width="15.75" height="15.70" fill="url(#c2)" opacity=".5"/><rect x="73.83" y="229.37" width="15.75" height="15.70" fill="url(#r12)"/><rect x="73.83" y="229.37" width="15.75" height="15.70" fill="url(#c3)" opacity=".5"/><rect x="92.89" y="229.37" width="15.75" height="15.70" fill="url(#r12)"/><rect x="92.89" y="229.37" width="15.75" height="15.70" fill="url(#c4)" opacity=".5"/><rect x="111.95" y="229.37" width="15.75" height="15.70" fill="url(#r12)"/><rect x="111.95" y="229.37" width="15.75" height="15.70" fill="url(#c5)" opacity=".5"/><rect x="131.01" y="229.37" width="15.75" height="15.70" fill="url(#r12)"/><rect x="131.01" y="229.37" width="15.75" height="15.70" fill="url(#c6)" opacity=".5"/><rect x="150.07" y="229.37" width="15.75" height="15.70" fill="url(#r12)"/><rect x="150.07" y="229.37" width="15.75" height="15.70" fill="url(#c7)" opacity=".5"/><rect x="169.13" y="229.37" width="15.75" height="15.70" fill="url(#r12)"/><rect x="169.13" y="229.37" width="15.75" height="15.70" fill="url(#c8)" opacity=".5"/><rect x="188.19" y="229.37" width="15.75" height="15.70" fill="url(#r12)"/><rect x="188.19" y="229.37" width="15.75" height="15.70" fill="url(#c9)" opacity=".5"/><rect x="207.25" y="229.37" width="15.75" height="15.70" fill="url(#r12)"/><rect x="207.25" y="229.37" width="15.75" height="15.70" fill="url(#c10)" opacity=".5"/><rect x="226.31" y="229.37" width="15.75" height="15.70" fill="url(#r12)"/><rect x="226.31" y="229.37" width="15.75" height="15.70" fill="url(#c11)" opacity=".5"/><rect x="245.37" y="229.37" width="15.75" height="15.70" fill="url(#r12)"/><rect x="245.37" y="229.37" width="15.75" height="15.70" fill="url(#c12)" opacity=".5"/><rect x="264.43" y="229.37" width="15.75" height="15.70" fill="url(#r12)"/><rect x="264.43" y="229.37" width="15.75" height="15.70" fill="url(#c13)" opacity=".5"/><rect x="16.65" y="247.93" width="15.75" height="15.70" fill="url(#r13)"/><rect x="16.65" y="247.93" width="15.75" height="15.70" fill="url(#c0)" opacity=".5"/><rect x="35.71" y="247.93" width="15.75" height="15.70" fill="url(#r13)"/><rect x="35.71" y="247.93" width="15.75" height="15.70" fill="url(#c1)" opacity=".5"/><rect x="54.77" y="247.93" width="15.75" height="15.70" fill="url(#r13)"/><rect x="54.77" y="247.93" width="15.75" height="15.70" fill="url(#c2)" opacity=".5"/><rect x="73.83" y="247.93" width="15.75" height="15.70" fill="url(#r13)"/><rect x="73.83" y="247.93" width="15.75" height="15.70" fill="url(#c3)" opacity=".5"/><rect x="92.89" y="247.93" width="15.75" height="15.70" fill="url(#r13)"/><rect x="92.89" y="247.93" width="15.75" height="15.70" fill="url(#c4)" opacity=".5"/><rect x="111.95" y="247.93" width="15.75" height="15.70" fill="url(#r13)"/><rect x="111.95" y="247.93" width="15.75" height="15.70" fill="url(#c5)" opacity=".5"/><rect x="131.01" y="247.93" width="15.75" height="15.70" fill="url(#r13)"/><rect x="131.01" y="247.93" width="15.75" height="15.70" fill="url(#c6)" opacity=".5"/><rect x="150.07" y="247.93" width="15.75" height="15.70" fill="url(#r13)"/><rect x="150.07" y="247.93" width="15.75" height="15.70" fill="url(#c7)" opacity=".5"/><rect x="169.13" y="247.93" width="15.75" height="15.70" fill="url(#r13)"/><rect x="169.13" y="247.93" width="15.75" height="15.70" fill="url(#c8)" opacity=".5"/><rect x="188.19" y="247.93" width="15.75" height="15.70" fill="url(#r13)"/><rect x="188.19" y="247.93" width="15.75" height="15.70" fill="url(#c9)" opacity=".5"/><rect x="207.25" y="247.93" width="15.75" height="15.70" fill="url(#r13)"/><rect x="207.25" y="247.93" width="15.75" height="15.70" fill="url(#c10)" opacity=".5"/><rect x="226.31" y="247.93" width="15.75" height="15.70" fill="url(#r13)"/><rect x="226.31" y="247.93" width="15.75" height="15.70" fill="url(#c11)" opacity=".5"/><rect x="245.37" y="247.93" width="15.75" height="15.70" fill="url(#r13)"/><rect x="245.37" y="247.93" width="15.75" height="15.70" fill="url(#c12)" opacity=".5"/><rect x="264.43" y="247.93" width="15.75" height="15.70" fill="url(#r13)"/><rect x="264.43" y="247.93" width="15.75" height="15.70" fill="url(#c13)" opacity=".5"/></g>
<g fill="none" stroke="#000" stroke-width=".6" stroke-opacity=".85"><rect x="16.65" y="6.65" width="15.75" height="15.70"/><rect x="35.71" y="6.65" width="15.75" height="15.70"/><rect x="54.77" y="6.65" width="15.75" height="15.70"/><rect x="73.83" y="6.65" width="15.75" height="15.70"/><rect x="92.89" y="6.65" width="15.75" height="15.70"/><rect x="111.95" y="6.65" width="15.75" height="15.70"/><rect x="131.01" y="6.65" width="15.75" height="15.70"/><rect x="150.07" y="6.65" width="15.75" height="15.70"/><rect x="169.13" y="6.65" width="15.75" height="15.70"/><rect x="188.19" y="6.65" width="15.75" height="15.70"/><rect x="207.25" y="6.65" width="15.75" height="15.70"/><rect x="226.31" y="6.65" width="15.75" height="15.70"/><rect x="245.37" y="6.65" width="15.75" height="15.70"/><rect x="264.43" y="6.65" width="15.75" height="15.70"/><rect x="16.65" y="25.21" width="15.75" height="15.70"/><rect x="35.71" y="25.21" width="15.75" height="15.70"/><rect x="54.77" y="25.21" width="15.75" height="15.70"/><rect x="73.83" y="25.21" width="15.75" height="15.70"/><rect x="92.89" y="25.21" width="15.75" height="15.70"/><rect x="111.95" y="25.21" width="15.75" height="15.70"/><rect x="131.01" y="25.21" width="15.75" height="15.70"/><rect x="150.07" y="25.21" width="15.75" height="15.70"/><rect x="169.13" y="25.21" width="15.75" height="15.70"/><rect x="188.19" y="25.21" width="15.75" height="15.70"/><rect x="207.25" y="25.21" width="15.75" height="15.70"/><rect x="226.31" y="25.21" width="15.75" height="15.70"/><rect x="245.37" y="25.21" width="15.75" height="15.70"/><rect x="264.43" y="25.21" width="15.75" height="15.70"/><rect x="16.65" y="43.77" width="15.75" height="15.70"/><rect x="35.71" y="43.77" width="15.75" height="15.70"/><rect x="54.77" y="43.77" width="15.75" height="15.70"/><rect x="73.83" y="43.77" width="15.75" height="15.70"/><rect x="92.89" y="43.77" width="15.75" height="15.70"/><rect x="111.95" y="43.77" width="15.75" height="15.70"/><rect x="131.01" y="43.77" width="15.75" height="15.70"/><rect x="150.07" y="43.77" width="15.75" height="15.70"/><rect x="169.13" y="43.77" width="15.75" height="15.70"/><rect x="188.19" y="43.77" width="15.75" height="15.70"/><rect x="207.25" y="43.77" width="15.75" height="15.70"/><rect x="226.31" y="43.77" width="15.75" height="15.70"/><rect x="245.37" y="43.77" width="15.75" height="15.70"/><rect x="264.43" y="43.77" width="15.75" height="15.70"/><rect x="16.65" y="62.33" width="15.75" height="15.70"/><rect x="35.71" y="62.33" width="15.75" height="15.70"/><rect x="54.77" y="62.33" width="15.75" height="15.70"/><rect x="73.83" y="62.33" width="15.75" height="15.70"/><rect x="92.89" y="62.33" width="15.75" height="15.70"/><rect x="111.95" y="62.33" width="15.75" height="15.70"/><rect x="131.01" y="62.33" width="15.75" height="15.70"/><rect x="150.07" y="62.33" width="15.75" height="15.70"/><rect x="169.13" y="62.33" width="15.75" height="15.70"/><rect x="188.19" y="62.33" width="15.75" height="15.70"/><rect x="207.25" y="62.33" width="15.75" height="15.70"/><rect x="226.31" y="62.33" width="15.75" height="15.70"/><rect x="245.37" y="62.33" width="15.75" height="15.70"/><rect x="264.43" y="62.33" width="15.75" height="15.70"/><rect x="16.65" y="80.89" width="15.75" height="15.70"/><rect x="35.71" y="80.89" width="15.75" height="15.70"/><rect x="54.77" y="80.89" width="15.75" height="15.70"/><rect x="73.83" y="80.89" width="15.75" height="15.70"/><rect x="92.89" y="80.89" width="15.75" height="15.70"/><rect x="111.95" y="80.89" width="15.75" height="15.70"/><rect x="131.01" y="80.89" width="15.75" height="15.70"/><rect x="150.07" y="80.89" width="15.75" height="15.70"/><rect x="169.13" y="80.89" width="15.75" height="15.70"/><rect x="188.19" y="80.89" width="15.75" height="15.70"/><rect x="207.25" y="80.89" width="15.75" height="15.70"/><rect x="226.31" y="80.89" width="15.75" height="15.70"/><rect x="245.37" y="80.89" width="15.75" height="15.70"/><rect x="264.43" y="80.89" width="15.75" height="15.70"/><rect x="16.65" y="99.45" width="15.75" height="15.70"/><rect x="35.71" y="99.45" width="15.75" height="15.70"/><rect x="54.77" y="99.45" width="15.75" height="15.70"/><rect x="73.83" y="99.45" width="15.75" height="15.70"/><rect x="92.89" y="99.45" width="15.75" height="15.70"/><rect x="111.95" y="99.45" width="15.75" height="15.70"/><rect x="131.01" y="99.45" width="15.75" height="15.70"/><rect x="150.07" y="99.45" width="15.75" height="15.70"/><rect x="169.13" y="99.45" width="15.75" height="15.70"/><rect x="188.19" y="99.45" width="15.75" height="15.70"/><rect x="207.25" y="99.45" width="15.75" height="15.70"/><rect x="226.31" y="99.45" width="15.75" height="15.70"/><rect x="245.37" y="99.45" width="15.75" height="15.70"/><rect x="264.43" y="99.45" width="15.75" height="15.70"/><rect x="16.65" y="118.01" width="15.75" height="15.70"/><rect x="35.71" y="118.01" width="15.75" height="15.70"/><rect x="54.77" y="118.01" width="15.75" height="15.70"/><rect x="73.83" y="118.01" width="15.75" height="15.70"/><rect x="92.89" y="118.01" width="15.75" height="15.70"/><rect x="111.95" y="118.01" width="15.75" height="15.70"/><rect x="131.01" y="118.01" width="15.75" height="15.70"/><rect x="150.07" y="118.01" width="15.75" height="15.70"/><rect x="169.13" y="118.01" width="15.75" height="15.70"/><rect x="188.19" y="118.01" width="15.75" height="15.70"/><rect x="207.25" y="118.01" width="15.75" height="15.70"/><rect x="226.31" y="118.01" width="15.75" height="15.70"/><rect x="245.37" y="118.01" width="15.75" height="15.70"/><rect x="264.43" y="118.01" width="15.75" height="15.70"/><rect x="16.65" y="136.57" width="15.75" height="15.70"/><rect x="35.71" y="136.57" width="15.75" height="15.70"/><rect x="54.77" y="136.57" width="15.75" height="15.70"/><rect x="73.83" y="136.57" width="15.75" height="15.70"/><rect x="92.89" y="136.57" width="15.75" height="15.70"/><rect x="111.95" y="136.57" width="15.75" height="15.70"/><rect x="131.01" y="136.57" width="15.75" height="15.70"/><rect x="150.07" y="136.57" width="15.75" height="15.70"/><rect x="169.13" y="136.57" width="15.75" height="15.70"/><rect x="188.19" y="136.57" width="15.75" height="15.70"/><rect x="207.25" y="136.57" width="15.75" height="15.70"/><rect x="226.31" y="136.57" width="15.75" height="15.70"/><rect x="245.37" y="136.57" width="15.75" height="15.70"/><rect x="264.43" y="136.57" width="15.75" height="15.70"/><rect x="16.65" y="155.13" width="15.75" height="15.70"/><rect x="35.71" y="155.13" width="15.75" height="15.70"/><rect x="54.77" y="155.13" width="15.75" height="15.70"/><rect x="73.83" y="155.13" width="15.75" height="15.70"/><rect x="92.89" y="155.13" width="15.75" height="15.70"/><rect x="111.95" y="155.13" width="15.75" height="15.70"/><rect x="131.01" y="155.13" width="15.75" height="15.70"/><rect x="150.07" y="155.13" width="15.75" height="15.70"/><rect x="169.13" y="155.13" width="15.75" height="15.70"/><rect x="188.19" y="155.13" width="15.75" height="15.70"/><rect x="207.25" y="155.13" width="15.75" height="15.70"/><rect x="226.31" y="155.13" width="15.75" height="15.70"/><rect x="245.37" y="155.13" width="15.75" height="15.70"/><rect x="264.43" y="155.13" width="15.75" height="15.70"/><rect x="16.65" y="173.69" width="15.75" height="15.70"/><rect x="35.71" y="173.69" width="15.75" height="15.70"/><rect x="54.77" y="173.69" width="15.75" height="15.70"/><rect x="73.83" y="173.69" width="15.75" height="15.70"/><rect x="92.89" y="173.69" width="15.75" height="15.70"/><rect x="111.95" y="173.69" width="15.75" height="15.70"/><rect x="131.01" y="173.69" width="15.75" height="15.70"/><rect x="150.07" y="173.69" width="15.75" height="15.70"/><rect x="169.13" y="173.69" width="15.75" height="15.70"/><rect x="188.19" y="173.69" width="15.75" height="15.70"/><rect x="207.25" y="173.69" width="15.75" height="15.70"/><rect x="226.31" y="173.69" width="15.75" height="15.70"/><rect x="245.37" y="173.69" width="15.75" height="15.70"/><rect x="264.43" y="173.69" width="15.75" height="15.70"/><rect x="16.65" y="192.25" width="15.75" height="15.70"/><rect x="35.71" y="192.25" width="15.75" height="15.70"/><rect x="54.77" y="192.25" width="15.75" height="15.70"/><rect x="73.83" y="192.25" width="15.75" height="15.70"/><rect x="92.89" y="192.25" width="15.75" height="15.70"/><rect x="111.95" y="192.25" width="15.75" height="15.70"/><rect x="131.01" y="192.25" width="15.75" height="15.70"/><rect x="150.07" y="192.25" width="15.75" height="15.70"/><rect x="169.13" y="192.25" width="15.75" height="15.70"/><rect x="188.19" y="192.25" width="15.75" height="15.70"/><rect x="207.25" y="192.25" width="15.75" height="15.70"/><rect x="226.31" y="192.25" width="15.75" height="15.70"/><rect x="245.37" y="192.25" width="15.75" height="15.70"/><rect x="264.43" y="192.25" width="15.75" height="15.70"/><rect x="16.65" y="210.81" width="15.75" height="15.70"/><rect x="35.71" y="210.81" width="15.75" height="15.70"/><rect x="54.77" y="210.81" width="15.75" height="15.70"/><rect x="73.83" y="210.81" width="15.75" height="15.70"/><rect x="92.89" y="210.81" width="15.75" height="15.70"/><rect x="111.95" y="210.81" width="15.75" height="15.70"/><rect x="131.01" y="210.81" width="15.75" height="15.70"/><rect x="150.07" y="210.81" width="15.75" height="15.70"/><rect x="169.13" y="210.81" width="15.75" height="15.70"/><rect x="188.19" y="210.81" width="15.75" height="15.70"/><rect x="207.25" y="210.81" width="15.75" height="15.70"/><rect x="226.31" y="210.81" width="15.75" height="15.70"/><rect x="245.37" y="210.81" width="15.75" height="15.70"/><rect x="264.43" y="210.81" width="15.75" height="15.70"/><rect x="16.65" y="229.37" width="15.75" height="15.70"/><rect x="35.71" y="229.37" width="15.75" height="15.70"/><rect x="54.77" y="229.37" width="15.75" height="15.70"/><rect x="73.83" y="229.37" width="15.75" height="15.70"/><rect x="92.89" y="229.37" width="15.75" height="15.70"/><rect x="111.95" y="229.37" width="15.75" height="15.70"/><rect x="131.01" y="229.37" width="15.75" height="15.70"/><rect x="150.07" y="229.37" width="15.75" height="15.70"/><rect x="169.13" y="229.37" width="15.75" height="15.70"/><rect x="188.19" y="229.37" width="15.75" height="15.70"/><rect x="207.25" y="229.37" width="15.75" height="15.70"/><rect x="226.31" y="229.37" width="15.75" height="15.70"/><rect x="245.37" y="229.37" width="15.75" height="15.70"/><rect x="264.43" y="229.37" width="15.75" height="15.70"/><rect x="16.65" y="247.93" width="15.75" height="15.70"/><rect x="35.71" y="247.93" width="15.75" height="15.70"/><rect x="54.77" y="247.93" width="15.75" height="15.70"/><rect x="73.83" y="247.93" width="15.75" height="15.70"/><rect x="92.89" y="247.93" width="15.75" height="15.70"/><rect x="111.95" y="247.93" width="15.75" height="15.70"/><rect x="131.01" y="247.93" width="15.75" height="15.70"/><rect x="150.07" y="247.93" width="15.75" height="15.70"/><rect x="169.13" y="247.93" width="15.75" height="15.70"/><rect x="188.19" y="247.93" width="15.75" height="15.70"/><rect x="207.25" y="247.93" width="15.75" height="15.70"/><rect x="226.31" y="247.93" width="15.75" height="15.70"/><rect x="245.37" y="247.93" width="15.75" height="15.70"/><rect x="264.43" y="247.93" width="15.75" height="15.70"/></g>
<rect x="297.1" y="7.4" width="11.5" height="255.8" fill="url(#cb)" stroke="#333" stroke-opacity=".35" stroke-width=".5"/>
<g font-family="'Liberation Sans',Arial,sans-serif" font-size="9.1" fill="#1c1c1c"><text x="21.5" y="278.9" text-anchor="middle">1</text><text transform="translate(11.1 11.5) rotate(-90)" text-anchor="middle">1</text><text x="40.6" y="278.9" text-anchor="middle">2</text><text transform="translate(11.1 30.5) rotate(-90)" text-anchor="middle">2</text><text x="59.7" y="278.9" text-anchor="middle">3</text><text transform="translate(11.1 49.4) rotate(-90)" text-anchor="middle">3</text><text x="78.8" y="278.9" text-anchor="middle">4</text><text transform="translate(11.1 68.4) rotate(-90)" text-anchor="middle">4</text><text x="97.9" y="278.9" text-anchor="middle">5</text><text transform="translate(11.1 87.3) rotate(-90)" text-anchor="middle">5</text><text x="117.0" y="278.9" text-anchor="middle">6</text><text transform="translate(11.1 106.3) rotate(-90)" text-anchor="middle">6</text><text x="136.1" y="278.9" text-anchor="middle">7</text><text transform="translate(11.1 125.3) rotate(-90)" text-anchor="middle">7</text><text x="155.2" y="278.9" text-anchor="middle">8</text><text transform="translate(11.1 144.2) rotate(-90)" text-anchor="middle">8</text><text x="174.3" y="278.9" text-anchor="middle">9</text><text transform="translate(11.1 163.2) rotate(-90)" text-anchor="middle">9</text><text x="193.4" y="278.9" text-anchor="middle">10</text><text transform="translate(11.1 182.1) rotate(-90)" text-anchor="middle">10</text><text x="212.5" y="278.9" text-anchor="middle">11</text><text transform="translate(11.1 201.1) rotate(-90)" text-anchor="middle">11</text><text x="231.6" y="278.9" text-anchor="middle">12</text><text transform="translate(11.1 220.1) rotate(-90)" text-anchor="middle">12</text><text x="250.7" y="278.9" text-anchor="middle">13</text><text transform="translate(11.1 239.0) rotate(-90)" text-anchor="middle">13</text><text x="269.8" y="278.9" text-anchor="middle">14</text><text transform="translate(11.1 258.0) rotate(-90)" text-anchor="middle">14</text>
<text transform="translate(324.2 124) rotate(-90)" text-anchor="middle" font-size="9.4">Cosine similarity</text></g>
<g clip-path="url(#clip)"><g filter="url(#virz)"><rect x="278.50" y="81.00" width="99.10" height="98.40" fill="url(#rs10)"/><rect x="278.50" y="81.00" width="99.10" height="98.40" fill="url(#cs8)" opacity=".5"/><rect x="397.50" y="81.00" width="99.10" height="98.40" fill="url(#rs10)"/><rect x="397.50" y="81.00" width="99.10" height="98.40" fill="url(#cs9)" opacity=".5"/><rect x="516.50" y="81.00" width="99.10" height="98.40" fill="url(#rs10)"/><rect x="516.50" y="81.00" width="99.10" height="98.40" fill="url(#cs10)" opacity=".5"/><rect x="397.50" y="-36.40" width="99.10" height="98.40" fill="url(#rs9)"/><rect x="397.50" y="-36.40" width="99.10" height="98.40" fill="url(#cs9)" opacity=".5"/><rect x="397.50" y="206.80" width="99.10" height="98.40" fill="url(#rs11)"/><rect x="397.50" y="206.80" width="99.10" height="98.40" fill="url(#cs9)" opacity=".5"/></g>
<g fill="none" stroke="#0a0a0a" stroke-width="1.5"><rect x="278.25" y="80.75" width="99.60" height="98.90"/><rect x="397.25" y="80.75" width="99.60" height="98.90"/><rect x="516.25" y="80.75" width="99.60" height="98.90"/><rect x="397.25" y="-36.65" width="99.60" height="98.90"/><rect x="397.25" y="206.55" width="99.60" height="98.90"/></g></g>
<g font-family="'Liberation Sans',Arial,sans-serif" font-size="7" font-weight="bold" fill="#333">
<text x="392.4" y="87.8" text-anchor="end">1</text>
<text x="393.1" y="178.9" text-anchor="end" textLength="6.7" lengthAdjust="spacingAndGlyphs">14</text>
<text x="400.2" y="189.6" text-anchor="middle">1</text>
<text x="491.9" y="191.6" text-anchor="middle" textLength="6.7" lengthAdjust="spacingAndGlyphs">14</text></g>
<ellipse cx="447.0" cy="132.9" rx="95.6" ry="93.5" fill="none" stroke="#c4222a" stroke-width="3.5"/>
<ellipse cx="195.95" cy="200.1" rx="15.9" ry="14.8" fill="none" stroke="#c4222a" stroke-width="1.8"/>
<line x1="211.8" y1="198.6" x2="355" y2="160.1" stroke="#c4222a" stroke-width="1.7"/>
</svg></body></html>
